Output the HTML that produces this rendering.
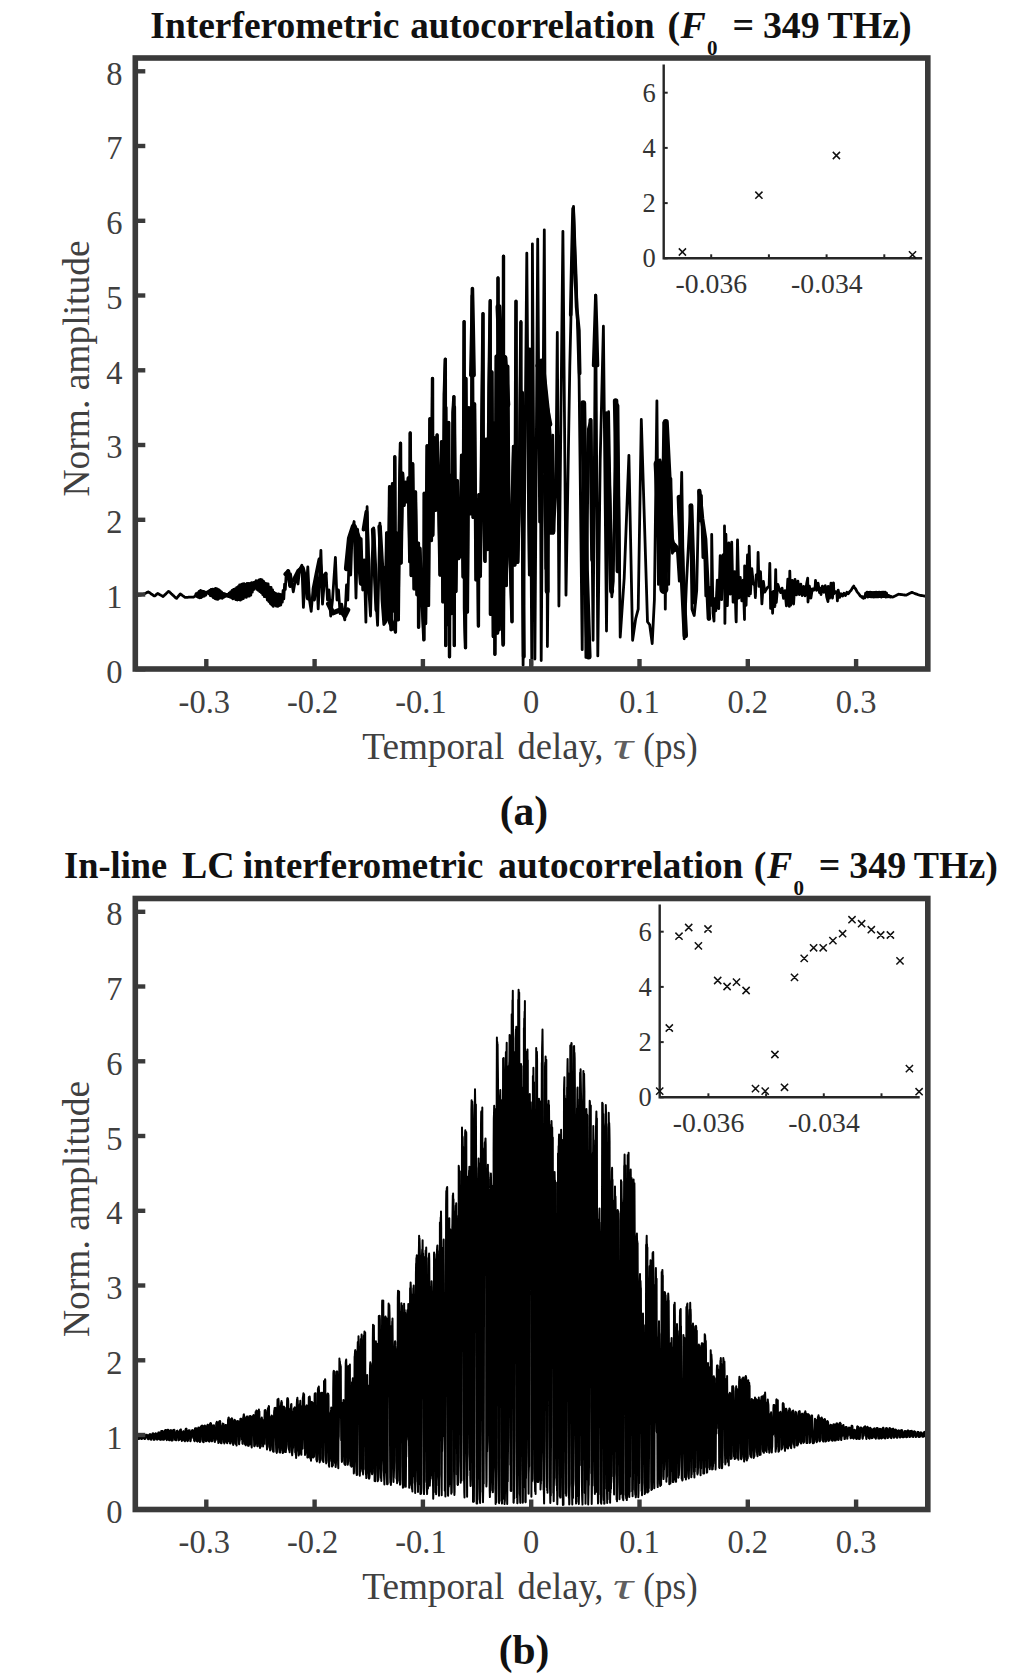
<!DOCTYPE html>
<html><head><meta charset="utf-8"><title>Interferometric autocorrelation</title>
<style>
html,body{margin:0;padding:0;background:#fff;}
svg{display:block}
text{font-family:"Liberation Serif","Times New Roman",serif;}
.tk{font-size:32.5px;fill:#404040;}
.lb{font-size:37.5px;fill:#404040;}
.tt{font-size:37.9px;font-weight:bold;fill:#111;}
.sub{font-size:21px;font-weight:bold;}
.pl{font-size:41.5px;font-weight:bold;fill:#111;}
.it{font-size:26.5px;fill:#333;}
</style></head><body>
<svg width="1025" height="1673" viewBox="0 0 1025 1673">
<rect width="1025" height="1673" fill="#fff"/>
<polyline points="135.3,595.4 136.1,595.4 136.8,595.4 137.6,595.4 138.3,595.4 139.1,595.2 139.8,595.1 140.6,595.0 141.3,594.9 142.1,594.7 142.8,594.6 143.6,594.2 144.3,593.8 145.1,593.5 145.8,593.1 146.6,592.7 147.3,592.3 148.1,591.9 148.8,592.2 149.6,592.7 150.3,593.2 151.1,593.8 151.8,594.3 152.6,594.8 153.3,595.3 154.1,595.9 154.8,595.9 155.6,595.3 156.3,594.6 157.1,593.9 157.8,593.5 158.6,593.9 159.3,594.4 160.1,594.8 160.8,595.2 161.6,595.6 162.3,596.0 163.1,596.5 163.8,595.8 164.6,595.1 165.3,594.4 166.1,593.7 166.8,592.9 167.6,592.2 168.3,591.5 169.1,591.6 169.8,592.3 170.6,593.0 171.3,593.7 172.1,594.4 172.8,595.1 173.6,595.8 174.3,596.5 175.1,597.2 175.8,597.9 176.6,598.3 177.3,597.4 178.1,596.6 178.8,595.7 179.6,594.8 180.3,593.9 181.1,594.5 181.8,595.0 182.6,595.6 183.3,596.1 184.1,596.7 184.8,597.3 185.6,597.4 186.3,597.3 187.1,597.3 187.8,597.3 188.6,597.2 189.3,597.2 190.1,597.2 190.8,597.2 191.6,597.1 192.3,597.1 193.1,597.1 193.8,597.0 194.6,596.4 195.3,596.0 196.1,593.6 196.8,596.5 197.6,592.8 198.3,597.3 199.1,591.4 199.8,597.8 200.6,590.5 201.3,597.6 202.1,591.2 202.8,596.5 203.6,591.3 204.3,596.1 205.1,592.2 205.8,595.2 206.6,592.3 207.3,593.1 208.1,591.5 208.8,593.7 209.6,590.3 210.3,595.6 211.1,589.3 211.8,596.2 212.6,589.1 213.3,597.7 214.1,589.1 214.8,598.5 215.6,588.3 216.3,599.1 217.1,589.0 217.8,599.3 218.6,589.6 219.3,598.3 220.1,590.7 220.8,597.9 221.6,592.0 222.3,598.3 223.1,593.3 223.8,597.3 224.6,593.6 225.3,596.5 226.1,594.4 226.8,596.0 227.6,594.5 228.3,596.5 229.1,593.2 229.8,597.0 230.6,591.8 231.3,597.6 232.1,590.5 232.8,598.9 233.6,589.3 234.3,598.4 235.1,588.8 235.8,599.6 236.6,587.6 237.3,600.0 238.1,586.6 238.8,599.5 239.6,584.9 240.3,600.2 241.1,584.6 241.8,599.3 242.6,583.8 243.3,598.6 244.1,583.6 244.8,597.2 245.6,584.5 246.3,597.4 247.1,583.3 247.8,596.2 248.6,583.5 249.3,596.2 250.1,583.5 250.8,595.1 251.6,582.6 252.3,592.2 253.1,582.7 253.8,589.6 254.6,582.2 255.3,587.4 256.1,580.6 256.8,589.3 257.6,580.9 258.3,590.4 259.1,579.8 259.8,591.7 260.6,579.5 261.3,592.8 262.1,579.8 262.8,594.6 263.6,581.3 264.3,596.6 265.1,583.2 265.8,596.9 266.6,583.6 267.3,600.0 268.1,583.8 268.8,601.5 269.6,587.2 270.3,603.5 271.1,587.5 271.8,605.0 272.6,590.0 273.3,606.4 274.1,592.3 274.8,605.1 275.6,593.4 276.3,606.1 277.1,594.1 277.8,606.3 278.6,594.0 279.3,605.5 280.1,594.3 280.8,605.0 281.6,594.3 282.3,602.1 283.1,590.3 283.8,598.8 284.6,584.2 285.3,589.5 286.1,575.6 286.8,579.0 287.8,570.7 289.5,585.0 290.5,574.0 293.3,591.8 295.0,582.0 296.4,577.7 298.0,584.0 299.5,570.0 301.9,565.2 303.4,607.4 305.0,580.0 306.3,590.0 307.8,566.8 309.5,600.0 311.2,611.3 313.0,590.0 314.5,600.0 316.7,574.6 318.2,608.9 320.9,550.4 322.5,604.2 324.5,580.0 326.1,573.0 327.5,600.0 329.0,590.0 330.7,616.0 332.5,600.0 335.4,557.4 337.0,600.0 338.5,590.0 340.1,613.6 341.7,604.2 343.2,612.0 344.8,619.9 346.5,585.0 347.8,600.0 349.3,550.0 350.7,575.0 352.2,530.0 354.1,521.5 356.0,598.0 357.6,529.3 359.4,550.0 361.2,538.7 362.7,590.0 364.2,560.0 365.9,622.2 367.1,506.7 368.8,590.0 370.5,616.0 372.0,560.0 373.7,527.8 375.5,590.0 377.6,625.3 379.9,523.1 382.0,600.0 383.8,624.5 385.3,622.7 386.7,533.0 388.2,612.4 389.6,486.7 391.1,629.7 392.5,483.6 393.9,611.1 394.8,456.8 395.4,632.1 396.8,533.1 398.3,619.7 399.7,484.7 400.5,443.2 401.1,563.0 402.6,473.1 404.0,505.4 405.5,482.3 406.9,501.7 408.3,477.9 409.8,561.7 410.2,433.0 411.2,575.5 412.7,463.8 414.1,588.9 415.5,492.0 417.0,594.8 418.4,543.1 418.6,627.3 419.9,548.2 421.3,586.1 422.7,613.1 423.9,639.8 424.2,493.3 425.6,623.5 427.1,445.8 428.5,605.4 429.9,418.8 431.4,540.5 432.5,378.4 432.8,535.3 434.3,437.8 435.7,510.2 437.1,435.0 438.6,496.7 440.0,575.0 441.5,441.8 442.9,601.9 444.3,394.0 445.3,359.1 445.7,645.5 445.8,407.3 447.2,624.5 448.7,422.5 449.5,656.8 450.1,475.2 451.5,613.5 453.0,412.7 453.9,396.6 454.3,645.5 454.4,406.8 455.9,591.6 457.3,480.7 458.7,558.6 460.2,554.8 461.6,455.3 463.1,577.0 464.1,321.6 464.5,608.3 465.5,647.7 465.9,378.5 467.4,612.1 468.8,407.8 470.3,513.7 471.7,428.7 472.3,295.5 473.1,517.4 474.6,404.0 476.0,579.9 477.5,499.4 478.4,626.1 478.9,494.6 480.3,576.3 481.8,427.0 483.0,313.6 483.2,432.1 484.7,559.1 485.0,561.4 486.1,439.2 487.5,549.5 489.0,387.0 490.2,300.7 490.4,614.3 491.9,371.9 493.3,636.6 494.7,423.0 494.9,654.3 496.2,356.3 497.6,633.1 498.0,278.0 499.1,629.8 500.5,335.6 501.9,604.7 503.1,645.0 503.5,256.2 503.4,644.0 504.8,362.8 506.3,585.5 507.7,366.3 509.1,539.0 510.6,573.2 512.0,621.7 512.0,514.7 513.5,446.5 514.9,565.0 516.0,301.3 516.3,464.8 517.8,562.3 519.2,503.0 520.9,321.5 523.1,665.2 526.8,253.1 529.3,575.0 530.3,428.8 531.8,665.2 532.4,243.8 534.9,659.0 537.7,239.1 539.6,522.1 540.2,366.6 541.2,660.6 544.3,229.8 545.8,568.8 546.7,422.6 547.4,646.6 549.5,425.7 551.4,522.1 552.7,435.1 553.6,533.0 555.8,491.0 557.3,332.4 558.9,606.1 562.9,231.3 566.0,595.2 569.8,366.6 573.5,206.4 576.0,273.3 579.1,379.1 582.2,649.7 583.8,404.0 585.9,657.4 588.4,428.8 590.9,419.5 593.1,640.3 595.6,295.1 597.8,655.9 600.2,459.9 603.4,326.2 606.5,631.0 608.6,411.7 611.8,596.8 613.3,581.2 615.8,402.4 618.0,405.5 620.2,637.2 624.2,578.1 628.9,455.3 632.6,640.3 635.7,618.6 638.2,609.2 641.3,419.5 647.5,621.7 649.7,624.8 652.2,643.5 654.4,599.9 656.9,400.8 658.4,584.4 660.0,459.9 661.5,568.8 663.7,422.6 665.3,609.2 666.8,459.9 668.7,584.4 670.9,478.6 672.4,553.3 674.6,543.9 677.1,547.0 679.3,581.2 681.7,472.4 684.2,638.8 686.4,584.4 690.5,506.6 692.0,609.2 694.2,615.5 696.7,590.6 698.8,492.6 700.0,520.8 701.4,495.4 702.9,557.5 704.3,536.3 705.8,595.9 707.2,581.7 708.6,615.7 710.1,587.5 711.5,605.3 711.7,534.4 713.0,613.1 714.0,621.1 714.4,598.6 715.8,610.8 717.3,580.1 718.7,608.7 720.2,555.6 721.6,599.7 723.0,554.8 724.5,569.2 724.5,525.9 724.9,623.4 725.9,534.2 727.4,605.7 728.8,543.0 730.2,594.2 731.7,542.1 733.1,602.2 734.6,571.6 736.0,619.1 736.2,621.9 737.4,545.8 737.5,539.9 738.9,598.0 740.3,577.5 741.8,600.9 743.2,580.1 744.5,619.5 744.6,566.0 746.1,605.3 747.5,554.9 749.0,595.9 749.2,546.2 750.4,593.9 751.8,568.7 753.3,583.8 754.7,585.4 755.4,597.7 756.2,575.0 757.6,577.9 758.1,552.4 759.0,586.4 760.5,571.7 761.9,603.9 763.4,581.5 764.8,592.0 766.2,589.6 767.7,587.2 769.1,586.9 769.8,563.3 770.6,608.4 772.0,592.6 772.6,613.3 773.4,591.5 774.9,606.5 775.7,569.6 776.3,602.5 777.8,584.3 779.2,588.6 780.6,592.6 782.1,588.2 783.5,598.3 785.0,590.7 786.4,605.9 787.8,579.1 789.3,606.4 789.8,571.1 790.7,605.2 792.2,580.5 793.6,604.0 795.0,579.3 796.5,594.9 797.9,581.1 799.4,594.6 800.8,584.1 802.2,595.5 803.7,586.3 805.1,595.9 806.6,584.1 807.7,578.2 808.0,602.0 809.4,586.1 810.9,598.0 812.3,588.9 813.8,590.2 815.2,586.6 815.5,580.5 816.6,590.3 818.1,583.2 819.5,592.5 821.0,588.2 821.0,594.5 822.4,586.1 823.8,592.3 825.3,585.6 826.7,596.9 828.0,601.6 828.2,586.4 829.6,598.1 831.0,583.2 832.5,598.0 833.5,582.8 833.9,593.8 835.4,591.6 836.8,592.1 837.4,600.8 838.2,590.2 839.7,597.4 841.1,593.8 842.6,596.1 844.0,593.2 845.4,595.6 846.9,592.2 848.3,593.7 849.8,591.6 851.2,590.2 852.6,587.6 853.8,586.0 854.1,587.2 855.5,588.7 857.0,591.7 858.4,593.3 860.4,596.1 861.1,596.3 861.9,597.2 862.6,596.7 863.4,598.3 864.1,596.7 864.9,597.8 865.6,593.1 866.4,596.5 867.1,592.2 867.9,597.0 868.6,592.5 869.4,596.6 870.1,592.1 870.9,596.8 871.6,592.3 872.4,596.9 873.1,592.3 873.9,597.0 874.6,592.4 875.4,596.9 876.1,592.1 876.9,596.9 877.6,592.3 878.4,596.9 879.1,592.1 879.9,596.7 880.6,592.5 881.4,597.1 882.1,592.1 882.9,596.6 883.6,592.1 884.4,596.6 885.1,592.2 885.9,597.0 886.6,593.2 887.4,596.8 888.1,595.2 888.9,596.8 889.6,595.8 890.4,597.0 891.1,596.4 891.9,597.0 892.6,597.0 893.4,596.8 894.1,596.4 894.9,596.0 895.6,595.7 896.4,595.3 897.1,594.9 897.9,594.5 898.6,594.2 899.4,594.3 900.1,594.4 900.9,594.5 901.6,594.6 902.4,594.7 903.1,594.8 903.9,594.9 904.6,595.0 905.4,595.1 906.1,595.2 906.9,594.8 907.6,594.4 908.4,594.0 909.1,593.6 909.9,593.3 910.6,592.9 911.4,592.5 912.1,592.4 912.9,592.7 913.6,593.0 914.4,593.3 915.1,593.6 915.9,593.9 916.6,594.2 917.4,594.4 918.1,594.7 918.9,595.0 919.6,595.2 920.4,595.4 921.1,595.5 921.9,595.6 922.6,595.7 923.4,595.8 924.1,596.0 924.9,596.1 925.6,596.1 926.4,596.0 927.1,596.0" fill="none" stroke="#000" stroke-width="2.8" stroke-linejoin="round"/><polyline points="385.3,622.7 386.7,533.0 388.2,612.4 389.6,486.7 391.1,629.7 392.5,483.6 393.9,611.1 394.8,456.8 395.4,632.1 396.8,533.1 398.3,619.7 399.7,484.7 400.5,443.2 401.1,563.0 402.6,473.1 404.0,505.4 405.5,482.3 406.9,501.7 408.3,477.9 409.8,561.7 410.2,433.0 411.2,575.5 412.7,463.8 414.1,588.9 415.5,492.0 417.0,594.8 418.4,543.1 418.6,627.3 419.9,548.2 421.3,586.1 422.7,613.1 423.9,639.8 424.2,493.3 425.6,623.5 427.1,445.8 428.5,605.4 429.9,418.8 431.4,540.5 432.5,378.4 432.8,535.3 434.3,437.8 435.7,510.2 437.1,435.0 438.6,496.7 440.0,575.0 441.5,441.8 442.9,601.9 444.3,394.0 445.3,359.1 445.7,645.5 445.8,407.3 447.2,624.5 448.7,422.5 449.5,656.8 450.1,475.2 451.5,613.5 453.0,412.7 453.9,396.6 454.3,645.5 454.4,406.8 455.9,591.6 457.3,480.7 458.7,558.6 460.2,554.8 461.6,455.3 463.1,577.0 464.1,321.6 464.5,608.3 465.5,647.7 465.9,378.5 467.4,612.1 468.8,407.8 470.3,513.7 471.7,428.7 472.3,295.5 473.1,517.4 474.6,404.0 476.0,579.9 477.5,499.4 478.4,626.1 478.9,494.6 480.3,576.3 481.8,427.0 483.0,313.6 483.2,432.1 484.7,559.1 485.0,561.4 486.1,439.2 487.5,549.5 489.0,387.0 490.2,300.7 490.4,614.3 491.9,371.9 493.3,636.6 494.7,423.0 494.9,654.3 496.2,356.3 497.6,633.1 498.0,278.0 499.1,629.8 500.5,335.6 501.9,604.7 503.1,645.0 503.5,256.2 503.4,644.0 504.8,362.8 506.3,585.5 507.7,366.3 509.1,539.0 510.6,573.2 512.0,621.7 512.0,514.7 513.5,446.5 514.9,565.0 516.0,301.3 516.3,464.8 517.8,562.3 519.2,503.0 520.9,321.5" fill="none" stroke="#000" stroke-width="3.4" stroke-linejoin="round"/><polyline points="540.9,363.5 546.2,413.7 550.3,476.4 551.4,530.8" fill="none" stroke="#000" stroke-width="8" stroke-linecap="round" stroke-linejoin="round"/><polyline points="545.1,476.4 546.8,539.2 547.2,591.5" fill="none" stroke="#000" stroke-width="5" stroke-linecap="round" stroke-linejoin="round"/><polyline points="583.2,403.2 585.9,570.6 588.6,656.4" fill="none" stroke="#000" stroke-width="6" stroke-linecap="round" stroke-linejoin="round"/><polyline points="590.5,420.0 592.2,560.1" fill="none" stroke="#000" stroke-width="4" stroke-linecap="round" stroke-linejoin="round"/><polyline points="606.2,413.7 608.9,497.4 611.6,591.5" fill="none" stroke="#000" stroke-width="5" stroke-linecap="round" stroke-linejoin="round"/><polyline points="615.6,401.1 617.3,497.4 618.3,570.6" fill="none" stroke="#000" stroke-width="5.5" stroke-linecap="round" stroke-linejoin="round"/><polyline points="658.1,463.9 660.6,518.3 663.9,589.4" fill="none" stroke="#000" stroke-width="9" stroke-linecap="round" stroke-linejoin="round"/><polyline points="665.8,422.1 668.5,476.4 671.0,539.2 673.8,549.7" fill="none" stroke="#000" stroke-width="6" stroke-linecap="round" stroke-linejoin="round"/><polyline points="679.4,497.4 682.1,570.6 685.3,635.4" fill="none" stroke="#000" stroke-width="5.5" stroke-linecap="round" stroke-linejoin="round"/><polyline points="690.9,505.7 692.6,560.1 694.1,602.0" fill="none" stroke="#000" stroke-width="5" stroke-linecap="round" stroke-linejoin="round"/><polyline points="699.3,491.1 702.0,518.3 705.1,539.2 707.2,581.0 708.9,618.7" fill="none" stroke="#000" stroke-width="4.5" stroke-linecap="round" stroke-linejoin="round"/><polyline points="529.4,350.9 530.5,497.4 531.5,570.6" fill="none" stroke="#000" stroke-width="7" stroke-linecap="round" stroke-linejoin="round"/><polyline points="522.1,392.8 523.8,656.4" fill="none" stroke="#000" stroke-width="4" stroke-linecap="round" stroke-linejoin="round"/><polyline points="570.7,314.9 571.9,258.3 573.1,208.5 574.6,258.3 576.6,307.1 578.9,330.5 579.7,373.4" fill="none" stroke="#000" stroke-width="3.6" stroke-linecap="round" stroke-linejoin="round"/><polyline points="470.8,375.4 471.8,326.6 472.4,288.5 473.2,326.6 474.1,375.4" fill="none" stroke="#000" stroke-width="3.6" stroke-linecap="round" stroke-linejoin="round"/><polyline points="593.4,365.6 594.7,326.6 595.7,295.4 596.7,326.6 597.7,365.6" fill="none" stroke="#000" stroke-width="3.2" stroke-linecap="round" stroke-linejoin="round"/><polyline points="498.5,307.1 500.9,365.6 504.4,357.8 507.3,404.6" fill="none" stroke="#000" stroke-width="6" stroke-linecap="round" stroke-linejoin="round"/><polyline points="538.5,365.6 541.5,361.7 545.4,404.6 549.3,424.1" fill="none" stroke="#000" stroke-width="6" stroke-linecap="round" stroke-linejoin="round"/><polyline points="285.3,574.2 288.3,571.2 290.4,586.1" fill="none" stroke="#000" stroke-width="4" stroke-linecap="round" stroke-linejoin="round"/><polyline points="294.2,580.1 298.7,571.2 302.3,568.2 306.1,583.1 308.2,598.0" fill="none" stroke="#000" stroke-width="5" stroke-linecap="round" stroke-linejoin="round"/><polyline points="313.6,589.0 316.5,574.2 319.5,559.3 321.9,580.1 325.5,574.2" fill="none" stroke="#000" stroke-width="4" stroke-linecap="round" stroke-linejoin="round"/><polyline points="328.5,603.9 332.9,612.9 340.4,609.9 344.8,615.8 347.8,609.9" fill="none" stroke="#000" stroke-width="5" stroke-linecap="round" stroke-linejoin="round"/><polyline points="346.9,568.2 349.9,538.5 353.8,526.5 358.2,538.5 361.8,583.1" fill="none" stroke="#000" stroke-width="6" stroke-linecap="round" stroke-linejoin="round"/><polyline points="363.6,529.5 366.5,511.7 368.9,583.1" fill="none" stroke="#000" stroke-width="4" stroke-linecap="round" stroke-linejoin="round"/><polyline points="373.1,529.5 374.9,568.2 376.7,609.9" fill="none" stroke="#000" stroke-width="4.5" stroke-linecap="round" stroke-linejoin="round"/><polyline points="379.6,526.5 382.0,568.2 384.4,612.9" fill="none" stroke="#000" stroke-width="4.5" stroke-linecap="round" stroke-linejoin="round"/><polyline points="386.5,568.2 389.5,618.8 393.3,627.7" fill="none" stroke="#000" stroke-width="6" stroke-linecap="round" stroke-linejoin="round"/>
<rect x="135.3" y="58.0" width="792.5" height="611.0" fill="none" stroke="#3a3a3a" stroke-width="5.6"/>
<line x1="135.3" x2="145.3" y1="669.3" y2="669.3" stroke="#3a3a3a" stroke-width="4.4"/>
<text transform="translate(122.5,682.7) scale(1,1.05)" text-anchor="end" class="tk">0</text>
<line x1="135.3" x2="145.3" y1="594.5" y2="594.5" stroke="#3a3a3a" stroke-width="4.4"/>
<text transform="translate(122.5,607.9) scale(1,1.05)" text-anchor="end" class="tk">1</text>
<line x1="135.3" x2="145.3" y1="519.8" y2="519.8" stroke="#3a3a3a" stroke-width="4.4"/>
<text transform="translate(122.5,533.2) scale(1,1.05)" text-anchor="end" class="tk">2</text>
<line x1="135.3" x2="145.3" y1="445.0" y2="445.0" stroke="#3a3a3a" stroke-width="4.4"/>
<text transform="translate(122.5,458.4) scale(1,1.05)" text-anchor="end" class="tk">3</text>
<line x1="135.3" x2="145.3" y1="370.3" y2="370.3" stroke="#3a3a3a" stroke-width="4.4"/>
<text transform="translate(122.5,383.7) scale(1,1.05)" text-anchor="end" class="tk">4</text>
<line x1="135.3" x2="145.3" y1="295.5" y2="295.5" stroke="#3a3a3a" stroke-width="4.4"/>
<text transform="translate(122.5,308.9) scale(1,1.05)" text-anchor="end" class="tk">5</text>
<line x1="135.3" x2="145.3" y1="220.8" y2="220.8" stroke="#3a3a3a" stroke-width="4.4"/>
<text transform="translate(122.5,234.2) scale(1,1.05)" text-anchor="end" class="tk">6</text>
<line x1="135.3" x2="145.3" y1="146.0" y2="146.0" stroke="#3a3a3a" stroke-width="4.4"/>
<text transform="translate(122.5,159.4) scale(1,1.05)" text-anchor="end" class="tk">7</text>
<line x1="135.3" x2="145.3" y1="71.3" y2="71.3" stroke="#3a3a3a" stroke-width="4.4"/>
<text transform="translate(122.5,84.7) scale(1,1.05)" text-anchor="end" class="tk">8</text>
<line x1="206.3" x2="206.3" y1="669.0" y2="659.0" stroke="#3a3a3a" stroke-width="4.4"/>
<text transform="translate(204.3,713.4) scale(1,1.05)" text-anchor="middle" class="tk">-0.3</text>
<line x1="314.6" x2="314.6" y1="669.0" y2="659.0" stroke="#3a3a3a" stroke-width="4.4"/>
<text transform="translate(312.6,713.4) scale(1,1.05)" text-anchor="middle" class="tk">-0.2</text>
<line x1="422.9" x2="422.9" y1="669.0" y2="659.0" stroke="#3a3a3a" stroke-width="4.4"/>
<text transform="translate(420.9,713.4) scale(1,1.05)" text-anchor="middle" class="tk">-0.1</text>
<line x1="531.2" x2="531.2" y1="669.0" y2="659.0" stroke="#3a3a3a" stroke-width="4.4"/>
<text transform="translate(531.2,713.4) scale(1,1.05)" text-anchor="middle" class="tk">0</text>
<line x1="639.5" x2="639.5" y1="669.0" y2="659.0" stroke="#3a3a3a" stroke-width="4.4"/>
<text transform="translate(639.5,713.4) scale(1,1.05)" text-anchor="middle" class="tk">0.1</text>
<line x1="747.8" x2="747.8" y1="669.0" y2="659.0" stroke="#3a3a3a" stroke-width="4.4"/>
<text transform="translate(747.8,713.4) scale(1,1.05)" text-anchor="middle" class="tk">0.2</text>
<line x1="856.1" x2="856.1" y1="669.0" y2="659.0" stroke="#3a3a3a" stroke-width="4.4"/>
<text transform="translate(856.1,713.4) scale(1,1.05)" text-anchor="middle" class="tk">0.3</text>
<text transform="translate(88.5,368.5) rotate(-90)" text-anchor="middle" class="lb">Norm. amplitude</text>
<text y="758.9" class="lb" xml:space="preserve"><tspan x="362.3" textLength="142" lengthAdjust="spacingAndGlyphs">Temporal</tspan> <tspan x="517.5" textLength="86" lengthAdjust="spacingAndGlyphs">delay,</tspan> <tspan x="643.3" textLength="54.4" lengthAdjust="spacingAndGlyphs">(ps)</tspan></text>
<text transform="translate(613,758.9) scale(1.5,1)" class="lb" font-style="italic" font-size="38" style="fill:#606060">τ</text>
<text y="37.8" class="tt"><tspan x="150.3" textLength="249" lengthAdjust="spacingAndGlyphs">Interferometric</tspan> <tspan x="410.2" textLength="244.5" lengthAdjust="spacingAndGlyphs">autocorrelation</tspan> <tspan x="667.4">(</tspan><tspan x="680.5" font-style="italic">F</tspan><tspan class="sub" x="707.0" dy="17">0</tspan><tspan x="732.4" dy="-17">=</tspan> <tspan x="762.9">349</tspan> <tspan x="827.4">THz)</tspan></text>
<text x="524" y="825.3" class="pl" text-anchor="middle">(a)</text>
<path d="M663.7 64.5 V258.3 H922.2" fill="none" stroke="#262626" stroke-width="2.4"/>
<line x1="663.7" x2="667.7" y1="258.3" y2="258.3" stroke="#262626" stroke-width="2"/>
<text x="655.7" y="267.3" text-anchor="end" class="it" font-size="27.5">0</text>
<line x1="663.7" x2="667.7" y1="203.1" y2="203.1" stroke="#262626" stroke-width="2"/>
<text x="655.7" y="212.1" text-anchor="end" class="it" font-size="27.5">2</text>
<line x1="663.7" x2="667.7" y1="147.9" y2="147.9" stroke="#262626" stroke-width="2"/>
<text x="655.7" y="156.9" text-anchor="end" class="it" font-size="27.5">4</text>
<line x1="663.7" x2="667.7" y1="92.7" y2="92.7" stroke="#262626" stroke-width="2"/>
<text x="655.7" y="101.7" text-anchor="end" class="it" font-size="27.5">6</text>
<line x1="711.2" x2="711.2" y1="258.3" y2="254.3" stroke="#262626" stroke-width="2"/>
<line x1="768.9" x2="768.9" y1="258.3" y2="254.3" stroke="#262626" stroke-width="2"/>
<line x1="826.6" x2="826.6" y1="258.3" y2="254.3" stroke="#262626" stroke-width="2"/>
<line x1="884.3" x2="884.3" y1="258.3" y2="254.3" stroke="#262626" stroke-width="2"/>
<text x="675.6" y="292.8" textLength="71.5" lengthAdjust="spacingAndGlyphs" class="it">-0.036</text>
<text x="791.1" y="292.8" textLength="71.5" lengthAdjust="spacingAndGlyphs" class="it">-0.034</text>
<path d="M678.8 248.4l7.2 7.2M678.8 255.6l7.2 -7.2M755.3 191.6l7.2 7.2M755.3 198.8l7.2 -7.2M832.8 151.9l7.2 7.2M832.8 159.1l7.2 -7.2M908.9 251.2l7.2 7.2M908.9 258.4l7.2 -7.2" stroke="#111" stroke-width="1.5" fill="none"/>
<polyline points="135.4,1438.8 135.5,1438.6 135.7,1438.8 135.9,1438.6 136.1,1438.5 136.3,1438.0 136.4,1437.1 136.6,1436.1 136.8,1435.9 137.0,1436.1 137.2,1436.0 137.4,1436.0 137.5,1436.1 137.7,1436.0 137.9,1436.0 138.1,1436.8 138.3,1438.6 138.4,1438.9 138.6,1438.9 138.8,1438.8 139.0,1439.0 139.2,1438.8 139.3,1438.1 139.5,1436.5 139.7,1435.7 139.9,1436.0 140.1,1435.5 140.2,1435.8 140.4,1435.9 140.6,1435.6 140.8,1435.6 141.0,1436.8 141.2,1438.8 141.3,1439.0 141.5,1439.0 141.7,1438.8 141.9,1438.7 142.1,1438.7 142.2,1438.8 142.4,1438.4 142.6,1436.3 142.8,1434.6 143.0,1434.4 143.1,1434.6 143.3,1434.5 143.5,1434.6 143.7,1434.5 143.9,1434.5 144.0,1435.8 144.2,1438.6 144.4,1438.9 144.6,1439.1 144.8,1439.1 144.9,1438.9 145.1,1439.0 145.3,1438.7 145.5,1437.8 145.7,1437.3 145.9,1435.2 146.0,1434.7 146.2,1435.0 146.4,1435.1 146.6,1435.0 146.8,1435.1 146.9,1434.8 147.1,1435.1 147.3,1435.0 147.5,1437.6 147.7,1438.4 147.8,1438.9 148.0,1439.0 148.2,1439.2 148.4,1439.2 148.6,1439.1 148.7,1439.2 148.9,1438.3 149.1,1434.8 149.3,1434.5 149.5,1434.2 149.7,1434.3 149.8,1434.2 150.0,1434.0 150.2,1434.4 150.4,1435.0 150.6,1438.0 150.7,1439.1 150.9,1439.6 151.1,1439.4 151.3,1439.3 151.5,1439.7 151.6,1439.3 151.8,1439.1 152.0,1437.9 152.2,1434.4 152.4,1433.6 152.5,1433.7 152.7,1433.5 152.9,1433.3 153.1,1433.2 153.3,1433.8 153.4,1433.5 153.6,1434.2 153.8,1437.5 154.0,1440.0 154.2,1439.5 154.4,1439.4 154.5,1439.5 154.7,1439.5 154.9,1439.3 155.1,1436.4 155.3,1434.0 155.4,1433.8 155.6,1433.2 155.8,1434.0 156.0,1433.7 156.2,1433.5 156.3,1433.7 156.5,1433.7 156.7,1437.1 156.9,1439.5 157.1,1439.5 157.2,1439.7 157.4,1439.3 157.6,1439.3 157.8,1439.4 158.0,1439.2 158.2,1435.4 158.3,1432.4 158.5,1432.9 158.7,1432.6 158.9,1432.6 159.1,1432.3 159.2,1432.5 159.4,1432.6 159.6,1435.9 159.8,1439.1 160.0,1439.7 160.1,1439.2 160.3,1439.8 160.5,1439.8 160.7,1439.8 160.9,1439.9 161.0,1432.9 161.2,1431.1 161.4,1431.2 161.6,1431.6 161.8,1431.1 162.0,1431.4 162.1,1430.9 162.3,1431.6 162.5,1431.1 162.7,1435.5 162.9,1439.8 163.0,1439.8 163.2,1439.6 163.4,1439.6 163.6,1439.4 163.8,1439.5 163.9,1439.1 164.1,1439.6 164.3,1435.3 164.5,1431.0 164.7,1430.5 164.8,1430.6 165.0,1430.3 165.2,1431.0 165.4,1430.4 165.6,1430.0 165.7,1431.1 165.9,1436.1 166.1,1439.1 166.3,1439.3 166.5,1439.6 166.7,1439.8 166.8,1440.1 167.0,1438.7 167.2,1433.8 167.4,1429.7 167.6,1430.6 167.7,1430.4 167.9,1430.5 168.1,1430.2 168.3,1429.9 168.5,1432.9 168.6,1438.4 168.8,1439.8 169.0,1439.4 169.2,1440.2 169.4,1440.1 169.5,1439.7 169.7,1440.2 169.9,1433.7 170.1,1430.5 170.3,1430.8 170.5,1430.5 170.6,1430.4 170.8,1430.1 171.0,1430.1 171.2,1430.5 171.4,1430.6 171.5,1436.1 171.7,1440.6 171.9,1440.4 172.1,1440.6 172.3,1440.3 172.4,1439.8 172.6,1440.3 172.8,1440.1 173.0,1436.6 173.2,1430.1 173.3,1430.6 173.5,1430.4 173.7,1430.4 173.9,1430.5 174.1,1429.7 174.2,1429.8 174.4,1429.9 174.6,1432.1 174.8,1436.0 175.0,1439.8 175.2,1440.0 175.3,1439.8 175.5,1439.6 175.7,1440.1 175.9,1440.2 176.1,1440.4 176.2,1438.4 176.4,1433.9 176.6,1432.0 176.8,1430.9 177.0,1430.7 177.1,1431.4 177.3,1431.4 177.5,1430.6 177.7,1431.0 177.9,1431.3 178.0,1431.5 178.2,1437.4 178.4,1440.2 178.6,1440.4 178.8,1440.2 179.0,1440.0 179.1,1439.4 179.3,1439.5 179.5,1439.6 179.7,1436.9 179.9,1431.3 180.0,1430.5 180.2,1429.8 180.4,1429.9 180.6,1430.0 180.8,1429.5 180.9,1429.4 181.1,1434.1 181.3,1439.5 181.5,1439.9 181.7,1440.2 181.8,1440.9 182.0,1440.2 182.2,1440.5 182.4,1438.9 182.6,1436.3 182.7,1432.7 182.9,1431.9 183.1,1431.5 183.3,1431.3 183.5,1431.1 183.7,1431.9 183.8,1432.3 184.0,1436.5 184.2,1440.5 184.4,1440.6 184.6,1440.3 184.7,1441.0 184.9,1441.3 185.1,1440.0 185.3,1435.5 185.5,1429.7 185.6,1429.3 185.8,1428.8 186.0,1429.4 186.2,1428.9 186.4,1429.4 186.5,1428.8 186.7,1431.5 186.9,1436.3 187.1,1440.8 187.3,1440.6 187.5,1440.9 187.6,1441.1 187.8,1440.9 188.0,1440.7 188.2,1438.4 188.4,1434.1 188.5,1430.8 188.7,1430.4 188.9,1430.9 189.1,1431.2 189.3,1431.2 189.4,1430.8 189.6,1430.3 189.8,1431.4 190.0,1433.0 190.2,1439.8 190.3,1441.3 190.5,1441.3 190.7,1440.7 190.9,1438.4 191.1,1437.7 191.2,1437.5 191.4,1436.5 191.6,1432.2 191.8,1431.1 192.0,1430.2 192.2,1430.8 192.3,1430.6 192.5,1430.7 192.7,1429.9 192.9,1430.1 193.1,1430.9 193.2,1435.5 193.4,1438.3 193.6,1438.3 193.8,1438.3 194.0,1438.1 194.1,1440.5 194.3,1440.9 194.5,1440.8 194.7,1441.2 194.9,1431.5 195.0,1428.5 195.2,1428.3 195.4,1428.9 195.6,1428.5 195.8,1428.2 196.0,1428.4 196.1,1428.2 196.3,1428.9 196.5,1435.0 196.7,1440.2 196.9,1440.8 197.0,1441.2 197.2,1441.4 197.4,1441.6 197.6,1441.3 197.8,1441.3 197.9,1432.0 198.1,1428.2 198.3,1427.6 198.5,1428.2 198.7,1428.5 198.8,1428.4 199.0,1427.5 199.2,1428.0 199.4,1436.3 199.6,1440.1 199.8,1441.9 199.9,1441.5 200.1,1441.9 200.3,1441.6 200.5,1441.2 200.7,1439.4 200.8,1431.5 201.0,1426.4 201.2,1426.2 201.4,1426.5 201.6,1425.9 201.7,1426.2 201.9,1425.9 202.1,1426.1 202.3,1425.6 202.5,1426.4 202.6,1430.3 202.8,1440.3 203.0,1441.8 203.2,1441.5 203.4,1441.5 203.5,1441.3 203.7,1442.3 203.9,1437.8 204.1,1430.7 204.3,1425.7 204.5,1425.7 204.6,1426.5 204.8,1425.5 205.0,1425.7 205.2,1426.0 205.4,1427.5 205.5,1436.7 205.7,1440.5 205.9,1441.2 206.1,1441.2 206.3,1441.0 206.4,1441.2 206.6,1440.4 206.8,1440.8 207.0,1435.4 207.2,1425.4 207.3,1425.3 207.5,1424.9 207.7,1425.5 207.9,1424.8 208.1,1424.9 208.3,1425.1 208.4,1425.3 208.6,1435.9 208.8,1441.3 209.0,1440.5 209.2,1441.4 209.3,1441.6 209.5,1441.5 209.7,1435.1 209.9,1427.0 210.1,1423.6 210.2,1423.7 210.4,1424.2 210.6,1423.1 210.8,1423.7 211.0,1423.3 211.1,1425.1 211.3,1436.1 211.5,1440.9 211.7,1441.3 211.9,1440.5 212.0,1440.8 212.2,1441.1 212.4,1440.6 212.6,1431.8 212.8,1425.7 213.0,1425.4 213.1,1425.7 213.3,1426.2 213.5,1426.1 213.7,1425.7 213.9,1425.2 214.0,1425.6 214.2,1428.0 214.4,1438.0 214.6,1441.2 214.8,1441.9 214.9,1442.0 215.1,1439.8 215.3,1439.5 215.5,1440.5 215.7,1440.1 215.8,1437.7 216.0,1430.8 216.2,1423.5 216.4,1422.7 216.6,1423.5 216.8,1421.8 216.9,1422.8 217.1,1422.2 217.3,1422.5 217.5,1423.9 217.7,1433.0 217.8,1439.8 218.0,1439.7 218.2,1441.7 218.4,1443.1 218.6,1442.4 218.7,1441.8 218.9,1431.5 219.1,1421.5 219.3,1422.5 219.5,1422.0 219.6,1421.8 219.8,1421.8 220.0,1420.9 220.2,1421.2 220.4,1430.7 220.5,1436.6 220.7,1442.9 220.9,1443.1 221.1,1442.4 221.3,1442.4 221.5,1443.3 221.6,1442.3 221.8,1442.2 222.0,1438.8 222.2,1426.2 222.4,1425.1 222.5,1425.1 222.7,1423.6 222.9,1424.7 223.1,1423.8 223.3,1424.7 223.4,1425.7 223.6,1424.0 223.8,1432.1 224.0,1442.7 224.2,1442.2 224.3,1443.4 224.5,1442.7 224.7,1441.9 224.9,1438.2 225.1,1427.8 225.3,1425.8 225.4,1426.2 225.6,1425.1 225.8,1426.1 226.0,1424.9 226.2,1426.5 226.3,1428.0 226.5,1438.0 226.7,1442.3 226.9,1442.7 227.1,1442.8 227.2,1443.3 227.4,1441.9 227.6,1441.6 227.8,1431.9 228.0,1420.4 228.1,1419.4 228.3,1418.9 228.5,1417.7 228.7,1417.5 228.9,1418.1 229.0,1419.5 229.2,1420.1 229.4,1428.9 229.6,1441.7 229.8,1441.7 230.0,1443.3 230.1,1442.6 230.3,1443.5 230.5,1443.0 230.7,1441.2 230.9,1427.1 231.0,1419.1 231.2,1418.8 231.4,1419.2 231.6,1419.1 231.8,1418.3 231.9,1419.3 232.1,1418.7 232.3,1419.1 232.5,1436.6 232.7,1442.7 232.8,1444.0 233.0,1442.4 233.2,1444.9 233.4,1444.3 233.6,1443.2 233.8,1439.6 233.9,1422.5 234.1,1421.0 234.3,1422.2 234.5,1420.2 234.7,1419.8 234.8,1421.0 235.0,1421.0 235.2,1420.4 235.4,1420.8 235.6,1437.2 235.7,1444.1 235.9,1442.4 236.1,1443.9 236.3,1444.2 236.5,1444.7 236.6,1445.6 236.8,1429.9 237.0,1425.0 237.2,1424.2 237.4,1421.7 237.5,1420.9 237.7,1421.3 237.9,1421.3 238.1,1421.6 238.3,1421.6 238.5,1421.3 238.6,1428.0 238.8,1440.8 239.0,1444.1 239.2,1444.3 239.4,1438.2 239.5,1439.1 239.7,1440.6 239.9,1433.6 240.1,1423.8 240.3,1420.9 240.4,1418.7 240.6,1419.1 240.8,1418.9 241.0,1418.7 241.2,1418.8 241.3,1420.8 241.5,1422.8 241.7,1430.2 241.9,1439.4 242.1,1439.6 242.3,1438.4 242.4,1443.5 242.6,1443.5 242.8,1443.9 243.0,1434.5 243.2,1417.3 243.3,1417.0 243.5,1416.6 243.7,1414.6 243.9,1414.3 244.1,1417.3 244.2,1415.9 244.4,1416.8 244.6,1428.3 244.8,1440.1 245.0,1444.3 245.1,1444.2 245.3,1444.4 245.5,1443.6 245.7,1445.3 245.9,1444.8 246.1,1440.1 246.2,1420.7 246.4,1417.5 246.6,1417.8 246.8,1416.8 247.0,1416.6 247.1,1416.4 247.3,1417.1 247.5,1429.0 247.7,1443.4 247.9,1444.9 248.0,1445.4 248.2,1445.9 248.4,1445.0 248.6,1445.8 248.8,1445.8 248.9,1439.8 249.1,1425.6 249.3,1416.3 249.5,1416.3 249.7,1417.9 249.8,1417.8 250.0,1418.1 250.2,1418.6 250.4,1416.1 250.6,1433.5 250.8,1444.5 250.9,1444.0 251.1,1445.0 251.3,1444.7 251.5,1445.8 251.7,1447.5 251.8,1444.4 252.0,1432.8 252.2,1419.2 252.4,1416.3 252.6,1416.2 252.7,1417.5 252.9,1416.6 253.1,1416.1 253.3,1416.4 253.5,1416.9 253.6,1414.9 253.8,1424.7 254.0,1439.3 254.2,1446.0 254.4,1446.2 254.6,1444.3 254.7,1446.1 254.9,1445.2 255.1,1443.4 255.3,1428.0 255.5,1420.2 255.6,1412.1 255.8,1412.2 256.0,1412.1 256.2,1411.5 256.4,1410.4 256.5,1410.5 256.7,1410.6 256.9,1426.5 257.1,1444.5 257.3,1446.0 257.4,1445.9 257.6,1443.9 257.8,1446.3 258.0,1434.5 258.2,1417.0 258.3,1412.6 258.5,1410.9 258.7,1412.9 258.9,1409.5 259.1,1413.1 259.3,1411.5 259.4,1411.4 259.6,1428.3 259.8,1443.0 260.0,1448.0 260.2,1445.6 260.3,1445.8 260.5,1444.8 260.7,1446.4 260.9,1446.4 261.1,1432.8 261.2,1419.1 261.4,1420.5 261.6,1418.9 261.8,1417.4 262.0,1420.2 262.1,1418.9 262.3,1419.7 262.5,1420.2 262.7,1436.4 262.9,1442.4 263.1,1446.5 263.2,1445.5 263.4,1442.2 263.6,1444.1 263.8,1442.9 264.0,1444.1 264.1,1443.9 264.3,1428.3 264.5,1416.8 264.7,1410.3 264.9,1412.9 265.0,1410.3 265.2,1411.2 265.4,1410.1 265.6,1410.5 265.8,1412.1 265.9,1421.6 266.1,1433.0 266.3,1444.3 266.5,1444.2 266.7,1445.7 266.8,1445.2 267.0,1449.5 267.2,1445.3 267.4,1447.1 267.6,1437.0 267.8,1410.4 267.9,1408.4 268.1,1408.1 268.3,1408.7 268.5,1407.4 268.7,1407.3 268.8,1406.1 269.0,1406.4 269.2,1419.7 269.4,1442.0 269.6,1447.8 269.7,1448.2 269.9,1447.9 270.1,1450.5 270.3,1449.5 270.5,1449.7 270.6,1444.7 270.8,1432.9 271.0,1421.1 271.2,1416.4 271.4,1419.0 271.6,1416.7 271.7,1415.4 271.9,1415.9 272.1,1417.4 272.3,1416.3 272.5,1429.0 272.6,1447.1 272.8,1450.3 273.0,1451.3 273.2,1451.6 273.4,1451.8 273.5,1450.0 273.7,1451.8 273.9,1435.1 274.1,1412.2 274.3,1410.0 274.4,1410.8 274.6,1408.1 274.8,1409.6 275.0,1409.5 275.2,1409.8 275.3,1407.8 275.5,1407.9 275.7,1422.8 275.9,1438.5 276.1,1448.1 276.3,1452.0 276.4,1452.0 276.6,1451.0 276.8,1452.9 277.0,1451.6 277.2,1445.1 277.3,1409.3 277.5,1399.5 277.7,1400.4 277.9,1401.3 278.1,1400.8 278.2,1402.3 278.4,1398.7 278.6,1400.3 278.8,1405.3 279.0,1434.1 279.1,1446.6 279.3,1449.7 279.5,1452.2 279.7,1451.8 279.9,1449.9 280.1,1452.6 280.2,1450.9 280.4,1450.6 280.6,1440.9 280.8,1405.8 281.0,1406.3 281.1,1402.7 281.3,1403.6 281.5,1401.1 281.7,1402.3 281.9,1403.2 282.0,1412.1 282.2,1433.2 282.4,1447.9 282.6,1452.6 282.8,1451.7 282.9,1453.1 283.1,1452.0 283.3,1451.9 283.5,1452.2 283.7,1429.6 283.9,1406.6 284.0,1406.8 284.2,1407.6 284.4,1409.0 284.6,1407.5 284.8,1407.9 284.9,1410.0 285.1,1433.4 285.3,1450.5 285.5,1452.0 285.7,1450.2 285.8,1452.1 286.0,1449.5 286.2,1448.6 286.4,1446.6 286.6,1444.6 286.7,1437.8 286.9,1410.8 287.1,1400.4 287.3,1398.3 287.5,1402.3 287.6,1400.3 287.8,1398.2 288.0,1399.0 288.2,1400.6 288.4,1407.4 288.6,1433.2 288.7,1447.4 288.9,1449.7 289.1,1448.5 289.3,1450.6 289.5,1450.6 289.6,1452.3 289.8,1450.4 290.0,1436.7 290.2,1410.8 290.4,1408.7 290.5,1409.3 290.7,1408.3 290.9,1408.1 291.1,1404.4 291.3,1406.0 291.4,1404.1 291.6,1417.7 291.8,1444.4 292.0,1453.7 292.2,1455.3 292.4,1452.2 292.5,1451.9 292.7,1449.7 292.9,1446.9 293.1,1448.0 293.3,1436.2 293.4,1411.1 293.6,1410.7 293.8,1408.7 294.0,1409.6 294.2,1408.0 294.3,1408.8 294.5,1407.7 294.7,1407.4 294.9,1414.1 295.1,1438.6 295.2,1452.6 295.4,1449.1 295.6,1450.0 295.8,1454.6 296.0,1449.5 296.1,1458.0 296.3,1454.1 296.5,1442.4 296.7,1406.0 296.9,1401.9 297.1,1399.7 297.2,1399.3 297.4,1397.7 297.6,1402.6 297.8,1400.6 298.0,1427.2 298.1,1451.0 298.3,1450.9 298.5,1451.3 298.7,1455.4 298.9,1453.9 299.0,1454.6 299.2,1454.2 299.4,1442.6 299.6,1410.3 299.8,1405.1 299.9,1404.1 300.1,1405.2 300.3,1400.8 300.5,1407.7 300.7,1405.9 300.9,1405.9 301.0,1421.7 301.2,1453.2 301.4,1454.8 301.6,1442.6 301.8,1446.9 301.9,1445.2 302.1,1447.7 302.3,1448.8 302.5,1439.2 302.7,1426.1 302.8,1398.1 303.0,1396.8 303.2,1395.3 303.4,1393.3 303.6,1396.0 303.7,1396.0 303.9,1395.1 304.1,1394.2 304.3,1410.7 304.5,1439.5 304.6,1448.9 304.8,1447.3 305.0,1455.0 305.2,1454.2 305.4,1452.7 305.6,1436.4 305.7,1408.5 305.9,1406.7 306.1,1406.8 306.3,1406.8 306.5,1405.5 306.6,1406.6 306.8,1405.4 307.0,1413.5 307.2,1441.2 307.4,1457.6 307.5,1455.1 307.7,1456.1 307.9,1454.2 308.1,1455.2 308.3,1457.2 308.4,1454.3 308.6,1412.5 308.8,1397.3 309.0,1399.3 309.2,1396.7 309.4,1396.9 309.5,1399.0 309.7,1396.5 309.9,1398.7 310.1,1424.1 310.3,1458.6 310.4,1456.3 310.6,1455.5 310.8,1457.1 311.0,1460.7 311.2,1457.4 311.3,1425.3 311.5,1407.2 311.7,1402.0 311.9,1401.9 312.1,1405.2 312.2,1403.3 312.4,1402.6 312.6,1402.9 312.8,1407.0 313.0,1428.4 313.1,1457.6 313.3,1455.5 313.5,1457.1 313.7,1455.2 313.9,1456.8 314.1,1456.3 314.2,1451.4 314.4,1420.2 314.6,1395.5 314.8,1393.4 315.0,1394.5 315.1,1394.6 315.3,1394.7 315.5,1395.6 315.7,1393.3 315.9,1426.0 316.0,1434.3 316.2,1454.8 316.4,1460.0 316.6,1456.9 316.8,1457.9 316.9,1461.5 317.1,1460.2 317.3,1460.0 317.5,1452.9 317.7,1415.7 317.9,1388.9 318.0,1390.4 318.2,1387.7 318.4,1392.3 318.6,1390.5 318.8,1386.6 318.9,1388.9 319.1,1393.0 319.3,1435.1 319.5,1456.3 319.7,1462.4 319.8,1461.8 320.0,1459.4 320.2,1459.4 320.4,1457.5 320.6,1460.6 320.7,1422.3 320.9,1396.0 321.1,1392.8 321.3,1398.5 321.5,1394.1 321.7,1395.9 321.8,1396.4 322.0,1393.0 322.2,1392.8 322.4,1407.8 322.6,1434.9 322.7,1459.2 322.9,1459.5 323.1,1461.7 323.3,1461.0 323.5,1462.1 323.6,1456.1 323.8,1423.8 324.0,1380.9 324.2,1382.0 324.4,1383.6 324.5,1381.4 324.7,1382.4 324.9,1380.4 325.1,1379.2 325.3,1380.3 325.4,1406.0 325.6,1431.1 325.8,1455.3 326.0,1460.1 326.2,1463.4 326.4,1462.2 326.5,1462.4 326.7,1460.7 326.9,1446.1 327.1,1406.4 327.3,1395.9 327.4,1394.3 327.6,1393.6 327.8,1394.4 328.0,1396.5 328.2,1393.7 328.3,1396.8 328.5,1395.1 328.7,1427.9 328.9,1465.9 329.1,1465.3 329.2,1466.7 329.4,1457.4 329.6,1461.4 329.8,1460.7 330.0,1455.1 330.2,1446.2 330.3,1421.0 330.5,1412.9 330.7,1415.5 330.9,1411.7 331.1,1409.4 331.2,1407.6 331.4,1415.0 331.6,1421.1 331.8,1453.3 332.0,1466.6 332.1,1465.4 332.3,1463.6 332.5,1460.9 332.7,1460.3 332.9,1465.5 333.0,1443.0 333.2,1388.9 333.4,1373.3 333.6,1371.1 333.8,1371.0 333.9,1370.8 334.1,1372.1 334.3,1372.0 334.5,1371.8 334.7,1410.4 334.9,1460.8 335.0,1462.7 335.2,1463.5 335.4,1460.5 335.6,1467.0 335.8,1465.6 335.9,1464.4 336.1,1460.0 336.3,1438.2 336.5,1376.3 336.7,1371.6 336.8,1379.6 337.0,1378.5 337.2,1371.4 337.4,1378.5 337.6,1375.7 337.7,1400.7 337.9,1442.4 338.1,1464.4 338.3,1468.2 338.5,1440.2 338.7,1437.6 338.8,1436.5 339.0,1415.2 339.2,1384.3 339.4,1358.6 339.6,1361.2 339.7,1362.8 339.9,1361.5 340.1,1365.9 340.3,1364.7 340.5,1364.9 340.6,1367.0 340.8,1366.6 341.0,1415.0 341.2,1440.5 341.4,1439.4 341.5,1432.9 341.7,1459.2 341.9,1461.9 342.1,1460.9 342.3,1443.5 342.4,1408.5 342.6,1402.8 342.8,1406.4 343.0,1407.5 343.2,1405.7 343.4,1401.7 343.5,1399.9 343.7,1408.6 343.9,1416.6 344.1,1454.0 344.3,1463.0 344.4,1463.5 344.6,1464.4 344.8,1460.5 345.0,1462.9 345.2,1465.0 345.3,1448.9 345.5,1389.5 345.7,1363.4 345.9,1360.8 346.1,1363.5 346.2,1359.5 346.4,1367.6 346.6,1368.0 346.8,1365.5 347.0,1387.3 347.2,1452.4 347.3,1461.9 347.5,1464.8 347.7,1464.7 347.9,1463.9 348.1,1461.0 348.2,1461.4 348.4,1406.4 348.6,1370.9 348.8,1366.5 349.0,1365.7 349.1,1370.4 349.3,1367.7 349.5,1367.6 349.7,1366.2 349.9,1364.6 350.0,1403.7 350.2,1458.1 350.4,1464.2 350.6,1465.5 350.8,1465.0 350.9,1461.8 351.1,1462.1 351.3,1461.5 351.5,1466.8 351.7,1448.7 351.9,1390.8 352.0,1382.2 352.2,1383.7 352.4,1385.4 352.6,1382.2 352.8,1378.2 352.9,1398.5 353.1,1439.5 353.3,1459.4 353.5,1466.7 353.7,1467.0 353.8,1473.5 354.0,1471.8 354.2,1449.6 354.4,1386.8 354.6,1356.4 354.7,1357.6 354.9,1353.8 355.1,1350.6 355.3,1350.1 355.5,1356.4 355.7,1351.4 355.8,1388.1 356.0,1457.2 356.2,1466.6 356.4,1473.4 356.6,1463.5 356.7,1475.1 356.9,1471.0 357.1,1474.7 357.3,1443.3 357.5,1395.1 357.6,1349.5 357.8,1342.0 358.0,1348.6 358.2,1350.1 358.4,1349.6 358.5,1336.3 358.7,1341.9 358.9,1347.8 359.1,1347.3 359.3,1393.9 359.5,1459.8 359.6,1474.4 359.8,1475.7 360.0,1471.9 360.2,1467.4 360.4,1469.1 360.5,1451.6 360.7,1380.4 360.9,1339.0 361.1,1340.5 361.3,1345.2 361.4,1343.5 361.6,1334.5 361.8,1341.5 362.0,1340.3 362.2,1397.0 362.3,1470.4 362.5,1471.6 362.7,1467.8 362.9,1469.3 363.1,1474.4 363.2,1464.8 363.4,1469.3 363.6,1408.4 363.8,1335.8 364.0,1338.5 364.2,1336.1 364.3,1334.2 364.5,1331.4 364.7,1340.7 364.9,1338.0 365.1,1343.3 365.2,1332.5 365.4,1421.9 365.6,1469.8 365.8,1470.9 366.0,1474.6 366.1,1472.8 366.3,1478.1 366.5,1477.9 366.7,1468.7 366.9,1414.3 367.0,1391.9 367.2,1375.1 367.4,1389.5 367.6,1392.6 367.8,1385.8 368.0,1389.6 368.1,1385.5 368.3,1406.6 368.5,1472.1 368.7,1474.1 368.9,1478.4 369.0,1475.5 369.2,1478.7 369.4,1477.3 369.6,1475.5 369.8,1426.1 369.9,1373.0 370.1,1365.5 370.3,1362.2 370.5,1371.6 370.7,1363.7 370.8,1369.2 371.0,1366.4 371.2,1398.1 371.4,1458.9 371.6,1471.4 371.7,1472.4 371.9,1473.5 372.1,1474.3 372.3,1473.9 372.5,1471.9 372.7,1425.2 372.8,1340.4 373.0,1324.8 373.2,1325.4 373.4,1328.8 373.6,1330.4 373.7,1334.1 373.9,1325.6 374.1,1355.1 374.3,1464.1 374.5,1464.1 374.6,1481.1 374.8,1480.9 375.0,1473.1 375.2,1481.2 375.4,1461.3 375.5,1399.7 375.7,1350.3 375.9,1341.2 376.1,1346.0 376.3,1345.4 376.5,1348.9 376.6,1350.2 376.8,1346.7 377.0,1343.7 377.2,1408.5 377.4,1472.0 377.5,1475.3 377.7,1481.2 377.9,1469.2 378.1,1474.8 378.3,1480.1 378.4,1475.5 378.6,1390.9 378.8,1316.1 379.0,1321.2 379.2,1319.2 379.3,1328.8 379.5,1336.4 379.7,1315.8 379.9,1319.2 380.1,1343.3 380.2,1422.9 380.4,1468.3 380.6,1473.8 380.8,1477.9 381.0,1473.2 381.2,1471.9 381.3,1481.0 381.5,1473.5 381.7,1470.4 381.9,1362.1 382.1,1305.7 382.2,1300.6 382.4,1302.4 382.6,1311.5 382.8,1308.9 383.0,1303.6 383.1,1301.2 383.3,1300.6 383.5,1367.5 383.7,1460.1 383.9,1464.9 384.0,1475.2 384.2,1479.8 384.4,1484.4 384.6,1474.5 384.8,1472.2 385.0,1427.3 385.1,1320.6 385.3,1318.1 385.5,1316.4 385.7,1319.6 385.9,1323.7 386.0,1325.7 386.2,1318.0 386.4,1329.3 386.6,1378.4 386.8,1473.9 386.9,1478.2 387.1,1484.3 387.3,1483.0 387.5,1484.3 387.7,1483.7 387.8,1408.3 388.0,1365.9 388.2,1318.4 388.4,1317.2 388.6,1303.5 388.7,1312.6 388.9,1311.2 389.1,1315.9 389.3,1305.0 389.5,1311.8 389.7,1322.4 389.8,1370.4 390.0,1440.6 390.2,1477.8 390.4,1482.6 390.6,1475.2 390.7,1478.2 390.9,1484.9 391.1,1480.3 391.3,1435.7 391.5,1326.1 391.6,1326.7 391.8,1326.0 392.0,1332.0 392.2,1321.4 392.4,1322.9 392.5,1318.5 392.7,1341.8 392.9,1401.3 393.1,1464.5 393.3,1476.4 393.5,1482.0 393.6,1469.6 393.8,1477.6 394.0,1470.2 394.2,1459.9 394.4,1381.9 394.5,1351.7 394.7,1346.8 394.9,1341.6 395.1,1341.2 395.3,1341.8 395.4,1345.4 395.6,1348.6 395.8,1349.0 396.0,1373.7 396.2,1424.3 396.3,1468.5 396.5,1478.7 396.7,1478.0 396.9,1476.3 397.1,1483.3 397.3,1480.3 397.4,1482.2 397.6,1379.0 397.8,1297.7 398.0,1290.8 398.2,1295.3 398.3,1301.7 398.5,1296.1 398.7,1301.4 398.9,1297.9 399.1,1291.5 399.2,1351.5 399.4,1467.7 399.6,1481.1 399.8,1475.8 400.0,1484.7 400.1,1480.2 400.3,1484.3 400.5,1479.1 400.7,1417.3 400.9,1323.3 401.0,1311.2 401.2,1311.8 401.4,1303.3 401.6,1315.8 401.8,1319.4 402.0,1305.6 402.1,1314.8 402.3,1320.0 402.5,1369.6 402.7,1466.2 402.9,1487.7 403.0,1474.9 403.2,1485.3 403.4,1481.1 403.6,1481.8 403.8,1486.9 403.9,1392.2 404.1,1303.7 404.3,1315.4 404.5,1317.0 404.7,1310.0 404.8,1317.1 405.0,1315.4 405.2,1312.7 405.4,1399.5 405.6,1481.3 405.8,1486.8 405.9,1477.5 406.1,1450.9 406.3,1456.8 406.5,1442.4 406.7,1437.2 406.8,1375.0 407.0,1315.1 407.2,1314.2 407.4,1310.2 407.6,1312.2 407.7,1310.0 407.9,1317.3 408.1,1313.7 408.3,1304.1 408.5,1379.8 408.6,1433.3 408.8,1439.9 409.0,1437.8 409.2,1487.8 409.4,1484.7 409.5,1483.8 409.7,1468.1 409.9,1336.1 410.1,1288.3 410.3,1293.3 410.5,1292.6 410.6,1282.4 410.8,1286.0 411.0,1294.0 411.2,1324.0 411.4,1419.2 411.5,1485.6 411.7,1485.5 411.9,1489.0 412.1,1474.9 412.3,1486.7 412.4,1491.5 412.6,1434.7 412.8,1318.3 413.0,1294.1 413.2,1294.1 413.3,1288.2 413.5,1289.1 413.7,1285.6 413.9,1296.3 414.1,1301.1 414.3,1412.5 414.4,1477.1 414.6,1475.4 414.8,1483.3 415.0,1483.2 415.2,1493.1 415.3,1488.1 415.5,1483.3 415.7,1381.4 415.9,1274.4 416.1,1263.4 416.2,1266.0 416.4,1257.9 416.6,1258.8 416.8,1255.3 417.0,1265.6 417.1,1313.7 417.3,1449.5 417.5,1467.5 417.7,1481.6 417.9,1482.2 418.0,1492.0 418.2,1476.0 418.4,1484.8 418.6,1353.3 418.8,1252.9 419.0,1245.0 419.1,1235.8 419.3,1237.9 419.5,1238.6 419.7,1245.9 419.9,1253.2 420.0,1342.6 420.2,1464.3 420.4,1493.9 420.6,1490.6 420.8,1486.7 420.9,1471.4 421.1,1493.8 421.3,1487.6 421.5,1411.7 421.7,1303.4 421.8,1255.8 422.0,1254.3 422.2,1249.6 422.4,1254.5 422.6,1240.2 422.8,1258.4 422.9,1254.9 423.1,1253.6 423.3,1284.4 423.5,1371.4 423.7,1482.5 423.8,1489.9 424.0,1494.1 424.2,1490.8 424.4,1481.1 424.6,1482.2 424.7,1480.0 424.9,1348.4 425.1,1256.8 425.3,1257.4 425.5,1257.9 425.6,1250.6 425.8,1261.6 426.0,1261.2 426.2,1247.6 426.4,1266.3 426.5,1310.6 426.7,1439.0 426.9,1487.9 427.1,1494.1 427.3,1480.4 427.5,1479.7 427.6,1486.0 427.8,1481.8 428.0,1488.6 428.2,1443.7 428.4,1284.6 428.5,1258.0 428.7,1274.4 428.9,1257.0 429.1,1253.5 429.3,1260.6 429.4,1279.1 429.6,1371.1 429.8,1485.7 430.0,1480.7 430.2,1473.1 430.3,1473.6 430.5,1478.8 430.7,1409.0 430.9,1286.8 431.1,1296.8 431.3,1291.9 431.4,1294.4 431.6,1281.3 431.8,1287.0 432.0,1296.0 432.2,1340.4 432.3,1433.2 432.5,1475.4 432.7,1476.7 432.9,1480.9 433.1,1487.8 433.2,1498.7 433.4,1492.1 433.6,1461.7 433.8,1334.4 434.0,1254.7 434.1,1252.5 434.3,1266.8 434.5,1254.0 434.7,1257.6 434.9,1259.3 435.1,1266.5 435.2,1274.5 435.4,1384.7 435.6,1492.3 435.8,1483.4 436.0,1487.8 436.1,1494.2 436.3,1483.8 436.5,1485.4 436.7,1385.6 436.9,1253.7 437.0,1250.1 437.2,1246.9 437.4,1245.4 437.6,1251.8 437.8,1250.9 437.9,1260.2 438.1,1267.4 438.3,1320.9 438.5,1476.6 438.7,1480.5 438.8,1492.0 439.0,1495.8 439.2,1479.5 439.4,1474.8 439.6,1401.8 439.8,1301.7 439.9,1222.5 440.1,1231.2 440.3,1224.0 440.5,1224.6 440.7,1217.2 440.8,1230.2 441.0,1211.5 441.2,1229.1 441.4,1358.0 441.6,1487.5 441.7,1495.3 441.9,1442.2 442.1,1451.2 442.3,1439.4 442.5,1339.2 442.6,1248.9 442.8,1253.1 443.0,1247.7 443.2,1252.5 443.4,1260.4 443.6,1241.9 443.7,1239.5 443.9,1282.4 444.1,1423.9 444.3,1437.1 444.5,1433.7 444.6,1441.8 444.8,1490.8 445.0,1490.1 445.2,1484.1 445.4,1496.4 445.5,1475.0 445.7,1373.6 445.9,1312.7 446.1,1204.4 446.3,1191.0 446.4,1192.7 446.6,1196.0 446.8,1187.9 447.0,1198.8 447.2,1186.9 447.3,1198.8 447.5,1284.5 447.7,1405.4 447.9,1494.8 448.1,1495.8 448.3,1489.5 448.4,1486.2 448.6,1483.4 448.8,1486.8 449.0,1405.7 449.2,1264.5 449.3,1218.2 449.5,1251.3 449.7,1234.6 449.9,1229.2 450.1,1243.1 450.2,1229.3 450.4,1324.2 450.6,1484.4 450.8,1470.2 451.0,1477.8 451.1,1482.2 451.3,1493.7 451.5,1488.3 451.7,1492.6 451.9,1477.2 452.1,1275.9 452.2,1230.3 452.4,1223.4 452.6,1208.3 452.8,1195.5 453.0,1210.0 453.1,1193.6 453.3,1205.1 453.5,1199.2 453.7,1234.6 453.9,1326.8 454.0,1468.7 454.2,1488.0 454.4,1495.0 454.6,1491.6 454.8,1467.6 454.9,1474.5 455.1,1406.0 455.3,1229.7 455.5,1213.3 455.7,1209.6 455.8,1205.5 456.0,1216.7 456.2,1203.2 456.4,1226.6 456.6,1215.8 456.8,1230.8 456.9,1399.7 457.1,1474.9 457.3,1468.6 457.5,1484.5 457.7,1484.3 457.8,1485.0 458.0,1484.7 458.2,1471.5 458.4,1460.5 458.6,1279.8 458.7,1165.8 458.9,1167.1 459.1,1176.6 459.3,1189.2 459.5,1175.5 459.6,1186.1 459.8,1171.2 460.0,1212.9 460.2,1290.5 460.4,1423.7 460.6,1477.8 460.7,1482.8 460.9,1465.7 461.1,1475.7 461.3,1474.8 461.5,1480.6 461.6,1388.7 461.8,1231.6 462.0,1127.5 462.2,1140.7 462.4,1147.3 462.5,1136.4 462.7,1137.9 462.9,1151.6 463.1,1146.8 463.3,1152.2 463.4,1153.2 463.6,1304.2 463.8,1435.9 464.0,1478.6 464.2,1483.7 464.3,1492.1 464.5,1497.4 464.7,1473.9 464.9,1247.9 465.1,1133.3 465.3,1130.2 465.4,1132.9 465.6,1141.6 465.8,1147.3 466.0,1145.3 466.2,1132.1 466.3,1134.2 466.5,1273.3 466.7,1451.2 466.9,1468.0 467.1,1496.7 467.2,1476.2 467.4,1475.7 467.6,1459.7 467.8,1453.9 468.0,1387.0 468.1,1238.9 468.3,1176.6 468.5,1195.7 468.7,1196.7 468.9,1177.7 469.1,1170.5 469.2,1192.0 469.4,1166.7 469.6,1265.9 469.8,1413.1 470.0,1470.2 470.1,1449.8 470.3,1478.4 470.5,1486.0 470.7,1485.6 470.9,1479.1 471.0,1373.0 471.2,1197.3 471.4,1110.0 471.6,1100.2 471.8,1113.3 471.9,1106.5 472.1,1124.4 472.3,1101.7 472.5,1114.1 472.7,1167.0 472.9,1444.7 473.0,1501.7 473.2,1501.9 473.4,1483.1 473.6,1486.3 473.8,1501.7 473.9,1501.4 474.1,1466.5 474.3,1282.1 474.5,1120.5 474.7,1104.4 474.8,1107.2 475.0,1089.3 475.2,1102.5 475.4,1111.1 475.6,1114.1 475.7,1108.8 475.9,1104.5 476.1,1160.7 476.3,1356.6 476.5,1496.0 476.6,1503.4 476.8,1503.2 477.0,1490.2 477.2,1503.4 477.4,1480.3 477.6,1477.5 477.7,1258.6 477.9,1178.7 478.1,1182.3 478.3,1168.4 478.5,1166.0 478.6,1158.6 478.8,1198.2 479.0,1163.2 479.2,1244.1 479.4,1421.4 479.5,1488.9 479.7,1499.4 479.9,1500.2 480.1,1503.0 480.3,1486.7 480.4,1491.9 480.6,1399.3 480.8,1173.6 481.0,1125.0 481.2,1112.0 481.4,1111.3 481.5,1125.0 481.7,1135.4 481.9,1119.1 482.1,1143.9 482.3,1107.4 482.4,1166.5 482.6,1431.5 482.8,1493.0 483.0,1502.3 483.2,1489.8 483.3,1486.8 483.5,1475.8 483.7,1483.8 483.9,1384.8 484.1,1223.2 484.2,1172.1 484.4,1148.2 484.6,1152.1 484.8,1143.0 485.0,1142.0 485.1,1145.3 485.3,1143.0 485.5,1138.4 485.7,1145.1 485.9,1183.3 486.1,1293.7 486.2,1458.8 486.4,1486.4 486.6,1481.4 486.8,1442.7 487.0,1444.9 487.1,1451.8 487.3,1441.7 487.5,1314.2 487.7,1177.1 487.9,1164.8 488.0,1185.6 488.2,1173.6 488.4,1172.2 488.6,1178.0 488.8,1179.1 488.9,1269.1 489.1,1372.0 489.3,1432.8 489.5,1452.2 489.7,1491.0 489.9,1497.1 490.0,1485.3 490.2,1493.1 490.4,1343.9 490.6,1221.5 490.8,1192.0 490.9,1173.4 491.1,1182.8 491.3,1186.9 491.5,1186.4 491.7,1185.7 491.8,1237.5 492.0,1402.7 492.2,1481.9 492.4,1490.5 492.6,1472.9 492.7,1475.6 492.9,1492.3 493.1,1473.6 493.3,1467.0 493.5,1281.5 493.6,1149.4 493.8,1118.5 494.0,1113.8 494.2,1105.8 494.4,1128.1 494.6,1115.0 494.7,1131.6 494.9,1109.0 495.1,1210.1 495.3,1488.6 495.5,1492.4 495.6,1503.9 495.8,1493.6 496.0,1502.8 496.2,1491.9 496.4,1462.0 496.5,1319.9 496.7,1089.6 496.9,1037.6 497.1,1060.7 497.3,1042.1 497.4,1051.1 497.6,1044.3 497.8,1064.3 498.0,1079.5 498.2,1133.5 498.4,1296.0 498.5,1469.7 498.7,1502.3 498.9,1491.6 499.1,1503.2 499.3,1501.0 499.4,1484.5 499.6,1305.9 499.8,1118.3 500.0,1096.7 500.2,1093.8 500.3,1090.0 500.5,1103.2 500.7,1104.5 500.9,1102.5 501.1,1099.9 501.2,1134.7 501.4,1297.1 501.6,1500.9 501.8,1498.0 502.0,1503.6 502.1,1488.7 502.3,1491.6 502.5,1498.9 502.7,1322.0 502.9,1148.5 503.1,1058.6 503.2,1068.0 503.4,1064.1 503.6,1058.1 503.8,1076.6 504.0,1084.3 504.1,1202.5 504.3,1478.1 504.5,1504.1 504.7,1502.2 504.9,1500.7 505.0,1492.3 505.2,1470.7 505.4,1238.7 505.6,1081.4 505.8,1062.4 505.9,1052.1 506.1,1055.4 506.3,1075.7 506.5,1059.0 506.7,1042.7 506.9,1352.6 507.0,1490.6 507.2,1503.9 507.4,1482.0 507.6,1443.5 507.8,1481.5 507.9,1460.5 508.1,1437.3 508.3,1302.9 508.5,1088.3 508.7,1066.1 508.8,1070.7 509.0,1077.0 509.2,1064.5 509.4,1061.1 509.6,1035.1 509.7,1067.5 509.9,1228.2 510.1,1403.3 510.3,1464.9 510.5,1461.2 510.7,1490.7 510.8,1476.7 511.0,1487.0 511.2,1491.1 511.4,1386.5 511.6,1043.3 511.7,1014.2 511.9,1020.1 512.1,1028.1 512.3,1027.8 512.5,1000.0 512.6,1020.5 512.8,990.7 513.0,1029.2 513.2,1098.4 513.4,1430.7 513.5,1502.4 513.7,1502.7 513.9,1497.9 514.1,1472.5 514.3,1498.3 514.4,1450.2 514.6,1305.7 514.8,1052.1 515.0,1074.5 515.2,1053.3 515.4,1070.2 515.5,1038.7 515.7,1034.7 515.9,1029.5 516.1,1033.3 516.3,1026.7 516.4,1161.3 516.6,1441.5 516.8,1475.6 517.0,1497.8 517.2,1484.1 517.3,1503.2 517.5,1502.8 517.7,1492.9 517.9,1362.3 518.1,1102.3 518.2,999.7 518.4,1006.5 518.6,989.7 518.8,997.1 519.0,1011.9 519.2,992.4 519.3,1020.9 519.5,1305.7 519.7,1471.5 519.9,1494.0 520.1,1496.2 520.2,1502.2 520.4,1502.9 520.6,1465.1 520.8,1302.2 521.0,1064.1 521.1,1092.4 521.3,1093.0 521.5,1066.1 521.7,1101.4 521.9,1087.2 522.0,1091.6 522.2,1147.2 522.4,1353.3 522.6,1449.6 522.8,1502.7 522.9,1501.4 523.1,1465.4 523.3,1487.8 523.5,1423.6 523.7,1200.5 523.9,1028.0 524.0,1039.5 524.2,1018.6 524.4,1025.1 524.6,1011.4 524.8,1025.6 524.9,1001.1 525.1,1129.0 525.3,1501.6 525.5,1502.2 525.7,1502.0 525.8,1467.9 526.0,1478.2 526.2,1453.0 526.4,1351.1 526.6,1082.2 526.7,1057.7 526.9,1051.6 527.1,1056.7 527.3,1064.1 527.5,1049.6 527.7,1078.0 527.8,1060.0 528.0,1208.4 528.2,1430.6 528.4,1473.5 528.6,1493.8 528.7,1473.8 528.9,1467.4 529.1,1466.0 529.3,1281.5 529.5,1151.0 529.6,1105.8 529.8,1094.1 530.0,1115.1 530.2,1103.4 530.4,1107.2 530.5,1104.0 530.7,1102.2 530.9,1111.7 531.1,1131.8 531.3,1261.7 531.4,1496.7 531.6,1466.2 531.8,1458.6 532.0,1478.4 532.2,1480.9 532.4,1478.8 532.5,1353.2 532.7,1253.0 532.9,1076.0 533.1,1107.1 533.3,1096.0 533.4,1067.8 533.6,1094.0 533.8,1105.0 534.0,1082.2 534.2,1170.4 534.3,1407.5 534.5,1468.9 534.7,1482.2 534.9,1482.3 535.1,1491.5 535.2,1487.6 535.4,1491.6 535.6,1494.0 535.8,1386.0 536.0,1148.9 536.2,1048.1 536.3,1069.2 536.5,1072.3 536.7,1058.1 536.9,1051.8 537.1,1060.4 537.2,1112.1 537.4,1358.9 537.6,1482.0 537.8,1475.1 538.0,1474.7 538.1,1468.7 538.3,1482.0 538.5,1479.9 538.7,1440.0 538.9,1113.7 539.0,1098.7 539.2,1103.3 539.4,1112.1 539.6,1114.7 539.8,1101.3 539.9,1123.1 540.1,1103.1 540.3,1310.5 540.5,1489.5 540.7,1484.1 540.9,1483.8 541.0,1449.4 541.2,1481.1 541.4,1380.6 541.6,1129.8 541.8,1062.8 541.9,1067.3 542.1,1047.5 542.3,1040.6 542.5,1029.5 542.7,1050.0 542.8,1068.8 543.0,1297.8 543.2,1447.6 543.4,1460.8 543.6,1489.9 543.7,1470.6 543.9,1493.1 544.1,1503.4 544.3,1471.6 544.5,1433.7 544.7,1326.9 544.8,1147.3 545.0,1066.5 545.2,1062.4 545.4,1081.6 545.6,1056.4 545.7,1080.2 545.9,1082.0 546.1,1063.7 546.3,1059.8 546.5,1285.2 546.6,1457.9 546.8,1487.3 547.0,1478.5 547.2,1490.5 547.4,1487.9 547.5,1492.8 547.7,1366.0 547.9,1232.4 548.1,1122.4 548.3,1104.0 548.5,1121.2 548.6,1100.8 548.8,1113.5 549.0,1104.9 549.2,1131.2 549.4,1124.6 549.5,1215.5 549.7,1432.6 549.9,1481.4 550.1,1492.0 550.3,1503.0 550.4,1501.0 550.6,1475.0 550.8,1495.7 551.0,1439.2 551.2,1260.2 551.3,1136.7 551.5,1121.1 551.7,1128.3 551.9,1144.5 552.1,1145.8 552.2,1127.5 552.4,1146.2 552.6,1150.6 552.8,1137.5 553.0,1287.7 553.2,1439.2 553.3,1493.1 553.5,1492.2 553.7,1501.2 553.9,1485.8 554.1,1472.3 554.2,1478.2 554.4,1326.2 554.6,1172.0 554.8,1182.4 555.0,1180.6 555.1,1194.4 555.3,1193.9 555.5,1192.6 555.7,1197.2 555.9,1182.4 556.0,1276.0 556.2,1451.2 556.4,1479.4 556.6,1485.5 556.8,1481.8 557.0,1490.8 557.1,1484.9 557.3,1504.3 557.5,1494.1 557.7,1446.1 557.9,1297.7 558.0,1153.5 558.2,1154.7 558.4,1156.8 558.6,1146.0 558.8,1150.7 558.9,1139.6 559.1,1134.4 559.3,1148.4 559.5,1301.7 559.7,1474.7 559.8,1496.3 560.0,1495.7 560.2,1497.6 560.4,1494.6 560.6,1497.5 560.7,1466.4 560.9,1359.0 561.1,1129.8 561.3,1140.5 561.5,1146.3 561.7,1140.9 561.8,1147.4 562.0,1139.8 562.2,1164.8 562.4,1172.8 562.6,1438.4 562.7,1485.5 562.9,1504.9 563.1,1504.4 563.3,1482.7 563.5,1504.7 563.6,1428.3 563.8,1225.0 564.0,1090.2 564.2,1082.7 564.4,1077.2 564.5,1113.7 564.7,1095.5 564.9,1114.1 565.1,1098.6 565.3,1139.4 565.5,1323.2 565.6,1461.6 565.8,1493.7 566.0,1490.5 566.2,1495.7 566.4,1491.6 566.5,1487.1 566.7,1416.6 566.9,1234.9 567.1,1087.2 567.3,1088.3 567.4,1069.3 567.6,1059.0 567.8,1074.5 568.0,1092.9 568.2,1083.9 568.3,1073.3 568.5,1213.5 568.7,1379.5 568.9,1497.8 569.1,1498.4 569.2,1504.5 569.4,1504.0 569.6,1488.7 569.8,1484.2 570.0,1334.8 570.2,1074.2 570.3,1045.6 570.5,1046.6 570.7,1068.4 570.9,1062.2 571.1,1053.4 571.2,1053.1 571.4,1043.0 571.6,1043.2 571.8,1374.0 572.0,1478.1 572.1,1496.3 572.3,1504.6 572.5,1482.0 572.7,1490.5 572.9,1490.2 573.0,1498.0 573.2,1419.5 573.4,1116.6 573.6,1077.9 573.8,1046.6 574.0,1050.9 574.1,1046.0 574.3,1059.3 574.5,1052.7 574.7,1058.8 574.9,1086.2 575.0,1267.4 575.2,1439.6 575.4,1479.3 575.6,1485.0 575.8,1486.8 575.9,1498.5 576.1,1503.6 576.3,1487.1 576.5,1502.1 576.7,1370.9 576.8,1125.3 577.0,1108.3 577.2,1109.6 577.4,1089.0 577.6,1087.4 577.7,1105.1 577.9,1099.2 578.1,1170.8 578.3,1335.5 578.5,1496.6 578.7,1487.2 578.8,1504.1 579.0,1494.7 579.2,1444.8 579.4,1464.3 579.6,1465.2 579.7,1303.6 579.9,1112.7 580.1,1072.8 580.3,1095.2 580.5,1090.7 580.6,1069.3 580.8,1081.4 581.0,1093.4 581.2,1102.3 581.4,1135.9 581.5,1361.5 581.7,1460.4 581.9,1483.3 582.1,1495.2 582.3,1501.2 582.5,1504.6 582.6,1494.7 582.8,1432.0 583.0,1138.7 583.2,1096.5 583.4,1071.0 583.5,1079.0 583.7,1075.5 583.9,1082.5 584.1,1073.8 584.3,1086.3 584.4,1090.9 584.6,1363.4 584.8,1493.1 585.0,1490.7 585.2,1468.4 585.3,1469.3 585.5,1503.8 585.7,1492.9 585.9,1478.4 586.1,1381.3 586.2,1121.7 586.4,1108.9 586.6,1115.3 586.8,1136.2 587.0,1114.4 587.2,1119.0 587.3,1115.3 587.5,1262.9 587.7,1445.5 587.9,1480.0 588.1,1479.2 588.2,1504.5 588.4,1496.6 588.6,1481.9 588.8,1485.9 589.0,1466.1 589.1,1335.1 589.3,1169.9 589.5,1118.9 589.7,1100.8 589.9,1102.0 590.0,1107.6 590.2,1124.7 590.4,1107.5 590.6,1108.9 590.8,1105.6 591.0,1211.8 591.1,1407.9 591.3,1473.6 591.5,1468.0 591.7,1504.0 591.9,1492.3 592.0,1483.0 592.2,1485.2 592.4,1485.7 592.6,1446.7 592.8,1252.1 592.9,1153.3 593.1,1151.7 593.3,1126.0 593.5,1152.4 593.7,1140.3 593.8,1147.9 594.0,1145.5 594.2,1226.9 594.4,1423.2 594.6,1477.8 594.8,1490.3 594.9,1493.9 595.1,1489.5 595.3,1492.2 595.5,1466.9 595.7,1330.0 595.8,1139.2 596.0,1127.8 596.2,1118.7 596.4,1111.4 596.6,1131.3 596.7,1125.1 596.9,1118.5 597.1,1303.3 597.3,1492.2 597.5,1474.0 597.6,1492.1 597.8,1489.6 598.0,1503.4 598.2,1501.8 598.4,1401.2 598.5,1229.9 598.7,1219.6 598.9,1228.2 599.1,1229.2 599.3,1214.8 599.5,1208.5 599.6,1222.3 599.8,1222.3 600.0,1233.7 600.2,1277.4 600.4,1434.2 600.5,1494.5 600.7,1485.3 600.9,1502.9 601.1,1499.0 601.3,1503.7 601.4,1500.1 601.6,1495.8 601.8,1421.1 602.0,1203.7 602.2,1102.7 602.3,1123.0 602.5,1120.1 602.7,1103.4 602.9,1116.0 603.1,1130.4 603.3,1114.1 603.4,1125.6 603.6,1269.2 603.8,1500.3 604.0,1481.5 604.2,1503.8 604.3,1491.3 604.5,1503.4 604.7,1464.5 604.9,1488.9 605.1,1443.7 605.2,1220.8 605.4,1126.0 605.6,1122.7 605.8,1105.1 606.0,1111.3 606.1,1131.4 606.3,1123.8 606.5,1127.7 606.7,1177.6 606.9,1355.3 607.0,1492.3 607.2,1503.0 607.4,1487.6 607.6,1499.4 607.8,1481.3 608.0,1491.2 608.1,1390.9 608.3,1148.0 608.5,1161.0 608.7,1112.8 608.9,1124.0 609.0,1124.4 609.2,1123.1 609.4,1128.5 609.6,1141.2 609.8,1233.1 609.9,1464.7 610.1,1502.7 610.3,1488.2 610.5,1493.0 610.7,1471.9 610.8,1478.8 611.0,1488.7 611.2,1405.1 611.4,1237.9 611.6,1182.9 611.8,1178.9 611.9,1171.7 612.1,1167.8 612.3,1192.5 612.5,1179.7 612.7,1223.9 612.8,1292.7 613.0,1433.6 613.2,1476.6 613.4,1475.6 613.6,1479.4 613.7,1482.0 613.9,1483.4 614.1,1494.6 614.3,1416.2 614.5,1296.8 614.6,1200.3 614.8,1207.9 615.0,1186.4 615.2,1215.1 615.4,1201.5 615.5,1196.4 615.7,1211.3 615.9,1245.1 616.1,1396.4 616.3,1473.2 616.5,1479.1 616.6,1499.4 616.8,1499.2 617.0,1501.2 617.2,1478.4 617.4,1419.1 617.5,1290.1 617.7,1210.1 617.9,1215.8 618.1,1224.8 618.3,1211.2 618.4,1241.0 618.6,1213.0 618.8,1220.6 619.0,1326.7 619.2,1422.2 619.3,1483.1 619.5,1499.3 619.7,1490.5 619.9,1491.1 620.1,1488.8 620.3,1480.3 620.4,1491.4 620.6,1493.9 620.8,1340.5 621.0,1180.2 621.2,1182.9 621.3,1188.1 621.5,1181.7 621.7,1197.6 621.9,1202.2 622.1,1204.3 622.2,1254.5 622.4,1406.2 622.6,1498.0 622.8,1466.2 623.0,1488.8 623.1,1499.5 623.3,1500.3 623.5,1494.6 623.7,1494.8 623.9,1416.8 624.0,1206.6 624.2,1165.8 624.4,1166.2 624.6,1154.5 624.8,1176.8 625.0,1167.1 625.1,1177.4 625.3,1166.1 625.5,1165.4 625.7,1255.7 625.9,1398.4 626.0,1495.4 626.2,1498.5 626.4,1496.5 626.6,1498.1 626.8,1500.1 626.9,1497.8 627.1,1497.6 627.3,1335.5 627.5,1185.2 627.7,1154.9 627.8,1175.1 628.0,1183.1 628.2,1173.1 628.4,1171.6 628.6,1152.7 628.8,1291.8 628.9,1439.0 629.1,1494.5 629.3,1496.9 629.5,1479.0 629.7,1492.0 629.8,1471.0 630.0,1477.0 630.2,1329.7 630.4,1275.1 630.6,1173.9 630.7,1169.4 630.9,1184.2 631.1,1178.9 631.3,1186.0 631.5,1181.7 631.6,1177.9 631.8,1208.5 632.0,1395.1 632.2,1491.6 632.4,1479.7 632.6,1496.2 632.7,1490.5 632.9,1489.6 633.1,1463.4 633.3,1376.3 633.5,1282.3 633.6,1179.6 633.8,1194.5 634.0,1198.0 634.2,1189.5 634.4,1183.2 634.5,1189.9 634.7,1233.9 634.9,1408.4 635.1,1490.2 635.3,1494.6 635.4,1491.6 635.6,1495.1 635.8,1497.3 636.0,1494.4 636.2,1469.7 636.3,1292.9 636.5,1253.2 636.7,1236.3 636.9,1233.5 637.1,1243.9 637.3,1241.1 637.4,1249.0 637.6,1243.0 637.8,1288.5 638.0,1388.5 638.2,1483.0 638.3,1497.3 638.5,1493.5 638.7,1483.5 638.9,1474.1 639.1,1483.3 639.2,1407.4 639.4,1302.0 639.6,1288.7 639.8,1279.9 640.0,1274.0 640.1,1293.4 640.3,1283.5 640.5,1281.0 640.7,1287.2 640.9,1288.7 641.1,1342.8 641.2,1434.0 641.4,1478.3 641.6,1491.1 641.8,1481.3 642.0,1495.2 642.1,1487.2 642.3,1483.3 642.5,1449.2 642.7,1331.7 642.9,1331.0 643.0,1313.6 643.2,1325.2 643.4,1324.6 643.6,1330.7 643.8,1328.8 643.9,1325.2 644.1,1347.1 644.3,1420.3 644.5,1488.0 644.7,1494.1 644.8,1486.1 645.0,1489.3 645.2,1492.6 645.4,1492.5 645.6,1492.6 645.8,1477.4 645.9,1394.1 646.1,1244.8 646.3,1261.5 646.5,1243.5 646.7,1235.7 646.8,1250.0 647.0,1244.1 647.2,1254.0 647.4,1247.4 647.6,1392.2 647.7,1492.5 647.9,1480.4 648.1,1487.6 648.3,1482.0 648.5,1491.6 648.6,1479.0 648.8,1488.3 649.0,1453.8 649.2,1379.7 649.4,1283.3 649.6,1268.4 649.7,1266.0 649.9,1270.4 650.1,1278.7 650.3,1269.2 650.5,1260.3 650.6,1260.4 650.8,1272.6 651.0,1366.3 651.2,1481.9 651.4,1489.9 651.5,1483.5 651.7,1482.5 651.9,1479.3 652.1,1489.2 652.3,1440.7 652.4,1279.5 652.6,1253.1 652.8,1266.4 653.0,1268.0 653.2,1252.0 653.3,1260.9 653.5,1273.6 653.7,1397.1 653.9,1460.9 654.1,1481.5 654.3,1488.3 654.4,1486.6 654.6,1415.2 654.8,1431.4 655.0,1419.7 655.2,1405.5 655.3,1325.7 655.5,1284.4 655.7,1284.6 655.9,1267.9 656.1,1288.8 656.2,1287.2 656.4,1280.2 656.6,1278.7 656.8,1379.6 657.0,1432.9 657.1,1429.1 657.3,1429.9 657.5,1483.2 657.7,1487.1 657.9,1483.5 658.1,1475.4 658.2,1451.5 658.4,1362.8 658.6,1340.3 658.8,1335.5 659.0,1321.2 659.1,1332.1 659.3,1334.4 659.5,1354.8 659.7,1349.1 659.9,1403.9 660.0,1483.3 660.2,1486.0 660.4,1477.9 660.6,1469.3 660.8,1472.8 660.9,1475.0 661.1,1485.0 661.3,1429.2 661.5,1315.2 661.7,1272.0 661.8,1279.5 662.0,1285.3 662.2,1274.4 662.4,1269.9 662.6,1277.8 662.8,1275.4 662.9,1338.1 663.1,1453.0 663.3,1476.4 663.5,1479.1 663.7,1476.8 663.8,1470.2 664.0,1469.7 664.2,1464.5 664.4,1431.3 664.6,1347.2 664.7,1291.9 664.9,1292.7 665.1,1293.2 665.3,1297.4 665.5,1299.0 665.6,1295.3 665.8,1300.7 666.0,1338.3 666.2,1457.9 666.4,1481.7 666.6,1470.4 666.7,1476.6 666.9,1476.9 667.1,1475.6 667.3,1440.9 667.5,1362.7 667.6,1301.6 667.8,1302.3 668.0,1301.2 668.2,1293.6 668.4,1297.4 668.5,1304.1 668.7,1300.6 668.9,1334.2 669.1,1421.8 669.3,1484.2 669.4,1483.7 669.6,1470.2 669.8,1472.5 670.0,1481.8 670.2,1475.0 670.4,1483.6 670.5,1431.9 670.7,1344.1 670.9,1342.9 671.1,1346.1 671.3,1347.4 671.4,1346.4 671.6,1337.9 671.8,1350.2 672.0,1347.3 672.2,1375.8 672.3,1471.4 672.5,1469.6 672.7,1482.1 672.9,1479.1 673.1,1480.1 673.2,1478.3 673.4,1481.9 673.6,1435.1 673.8,1364.7 674.0,1312.1 674.1,1304.7 674.3,1318.2 674.5,1310.4 674.7,1302.8 674.9,1314.8 675.1,1371.6 675.2,1473.4 675.4,1480.0 675.6,1476.5 675.8,1481.8 676.0,1477.0 676.1,1481.8 676.3,1436.4 676.5,1342.9 676.7,1336.4 676.9,1333.7 677.0,1324.0 677.2,1333.2 677.4,1332.6 677.6,1331.0 677.8,1340.5 677.9,1384.9 678.1,1452.1 678.3,1477.7 678.5,1477.1 678.7,1469.8 678.9,1475.2 679.0,1472.0 679.2,1466.8 679.4,1453.0 679.6,1343.4 679.8,1330.1 679.9,1316.9 680.1,1310.0 680.3,1317.4 680.5,1315.4 680.7,1309.0 680.8,1325.6 681.0,1326.2 681.2,1384.5 681.4,1458.1 681.6,1472.6 681.7,1478.7 681.9,1468.8 682.1,1470.7 682.3,1480.5 682.5,1480.1 682.6,1479.9 682.8,1453.0 683.0,1404.5 683.2,1375.4 683.4,1335.0 683.6,1339.8 683.7,1343.5 683.9,1350.9 684.1,1338.5 684.3,1337.7 684.5,1339.7 684.6,1400.2 684.8,1452.7 685.0,1477.2 685.2,1474.0 685.4,1473.4 685.5,1471.8 685.7,1473.1 685.9,1479.5 686.1,1473.9 686.3,1376.2 686.4,1306.9 686.6,1307.6 686.8,1308.0 687.0,1305.9 687.2,1305.1 687.4,1303.6 687.5,1315.1 687.7,1338.6 687.9,1398.5 688.1,1470.6 688.3,1476.4 688.4,1477.2 688.6,1466.6 688.8,1478.4 689.0,1470.0 689.2,1446.5 689.3,1390.2 689.5,1316.7 689.7,1309.8 689.9,1313.5 690.1,1310.0 690.2,1302.7 690.4,1312.7 690.6,1309.4 690.8,1314.7 691.0,1380.5 691.1,1468.1 691.3,1477.3 691.5,1473.0 691.7,1474.4 691.9,1467.3 692.1,1439.4 692.2,1377.0 692.4,1326.0 692.6,1325.2 692.8,1330.9 693.0,1323.5 693.1,1328.0 693.3,1328.7 693.5,1331.2 693.7,1326.3 693.9,1391.3 694.0,1471.9 694.2,1471.6 694.4,1477.4 694.6,1465.2 694.8,1471.8 694.9,1466.0 695.1,1467.8 695.3,1413.7 695.5,1334.6 695.7,1329.5 695.9,1326.1 696.0,1325.9 696.2,1327.1 696.4,1334.8 696.6,1334.1 696.8,1330.7 696.9,1348.3 697.1,1436.1 697.3,1473.0 697.5,1474.4 697.7,1465.0 697.8,1473.3 698.0,1468.5 698.2,1467.9 698.4,1392.8 698.6,1353.7 698.7,1347.7 698.9,1344.6 699.1,1345.9 699.3,1349.8 699.5,1345.7 699.6,1347.8 699.8,1361.9 700.0,1439.8 700.2,1459.5 700.4,1470.7 700.6,1475.2 700.7,1467.9 700.9,1467.5 701.1,1468.5 701.3,1453.6 701.5,1399.4 701.6,1345.3 701.8,1343.3 702.0,1356.8 702.2,1352.3 702.4,1348.5 702.5,1357.8 702.7,1343.4 702.9,1369.4 703.1,1442.7 703.3,1473.4 703.4,1465.3 703.6,1470.7 703.8,1468.4 704.0,1473.3 704.2,1473.4 704.4,1429.0 704.5,1386.3 704.7,1334.3 704.9,1339.5 705.1,1335.2 705.3,1340.0 705.4,1341.8 705.6,1340.6 705.8,1341.1 706.0,1350.2 706.2,1438.0 706.3,1466.9 706.5,1467.9 706.7,1466.1 706.9,1472.7 707.1,1468.9 707.2,1472.2 707.4,1447.4 707.6,1417.3 707.8,1379.3 708.0,1363.1 708.2,1373.1 708.3,1368.9 708.5,1368.0 708.7,1367.1 708.9,1368.9 709.1,1377.1 709.2,1441.3 709.4,1467.8 709.6,1462.7 709.8,1469.3 710.0,1465.5 710.1,1465.9 710.3,1460.6 710.5,1389.7 710.7,1350.2 710.9,1357.1 711.0,1355.3 711.2,1359.2 711.4,1354.6 711.6,1358.2 711.8,1360.8 711.9,1425.4 712.1,1469.5 712.3,1466.9 712.5,1464.8 712.7,1469.1 712.9,1465.7 713.0,1466.5 713.2,1455.3 713.4,1410.4 713.6,1377.6 713.8,1376.3 713.9,1380.8 714.1,1380.8 714.3,1377.6 714.5,1381.5 714.7,1378.6 714.8,1396.3 715.0,1457.2 715.2,1463.9 715.4,1461.6 715.6,1469.4 715.7,1464.5 715.9,1429.8 716.1,1432.4 716.3,1430.5 716.5,1433.4 716.7,1398.4 716.8,1370.4 717.0,1365.5 717.2,1367.7 717.4,1367.8 717.6,1365.4 717.7,1367.3 717.9,1370.3 718.1,1369.5 718.3,1377.2 718.5,1409.3 718.6,1428.2 718.8,1426.4 719.0,1429.6 719.2,1467.4 719.4,1463.2 719.5,1468.1 719.7,1465.9 719.9,1417.5 720.1,1366.0 720.3,1366.4 720.4,1360.7 720.6,1362.7 720.8,1358.0 721.0,1362.9 721.2,1364.2 721.4,1366.3 721.5,1388.8 721.7,1455.3 721.9,1468.3 722.1,1467.9 722.3,1463.3 722.4,1462.2 722.6,1462.4 722.8,1448.0 723.0,1396.0 723.2,1365.5 723.3,1357.9 723.5,1360.0 723.7,1361.3 723.9,1363.7 724.1,1364.7 724.2,1363.6 724.4,1361.6 724.6,1370.3 724.8,1409.3 725.0,1454.5 725.2,1462.8 725.3,1464.4 725.5,1463.1 725.7,1462.6 725.9,1443.6 726.1,1410.4 726.2,1380.9 726.4,1380.4 726.6,1378.7 726.8,1383.7 727.0,1380.6 727.1,1376.1 727.3,1395.9 727.5,1433.7 727.7,1458.8 727.9,1457.3 728.0,1462.0 728.2,1461.5 728.4,1460.7 728.6,1459.2 728.8,1465.5 728.9,1440.1 729.1,1409.2 729.3,1394.3 729.5,1393.5 729.7,1400.6 729.9,1392.7 730.0,1394.9 730.2,1395.9 730.4,1394.0 730.6,1415.8 730.8,1453.0 730.9,1458.9 731.1,1458.6 731.3,1457.3 731.5,1456.2 731.7,1458.4 731.8,1436.7 732.0,1397.2 732.2,1386.5 732.4,1386.4 732.6,1391.7 732.7,1387.5 732.9,1386.9 733.1,1386.3 733.3,1393.1 733.5,1387.8 733.7,1400.2 733.8,1451.4 734.0,1456.4 734.2,1455.9 734.4,1456.9 734.6,1458.8 734.7,1459.0 734.9,1456.3 735.1,1456.1 735.3,1457.6 735.5,1458.6 735.6,1410.1 735.8,1391.4 736.0,1389.0 736.2,1386.3 736.4,1388.9 736.5,1389.3 736.7,1388.5 736.9,1388.8 737.1,1389.3 737.3,1403.2 737.4,1438.5 737.6,1458.0 737.8,1457.5 738.0,1458.7 738.2,1455.5 738.4,1459.7 738.5,1456.2 738.7,1447.7 738.9,1411.4 739.1,1382.0 739.3,1378.7 739.4,1376.7 739.6,1377.1 739.8,1380.7 740.0,1380.3 740.2,1381.6 740.3,1379.8 740.5,1392.1 740.7,1439.9 740.9,1458.7 741.1,1457.1 741.2,1459.2 741.4,1458.8 741.6,1458.6 741.8,1453.5 742.0,1410.6 742.2,1381.8 742.3,1378.4 742.5,1387.3 742.7,1382.9 742.9,1383.0 743.1,1377.6 743.2,1379.6 743.4,1386.9 743.6,1435.4 743.8,1457.3 744.0,1455.1 744.1,1461.5 744.3,1460.0 744.5,1457.2 744.7,1459.8 744.9,1456.3 745.0,1420.8 745.2,1377.1 745.4,1381.0 745.6,1377.6 745.8,1376.0 746.0,1379.3 746.1,1376.7 746.3,1379.5 746.5,1382.4 746.7,1415.1 746.9,1460.4 747.0,1457.3 747.2,1457.8 747.4,1458.7 747.6,1458.6 747.8,1457.1 747.9,1417.2 748.1,1395.6 748.3,1380.2 748.5,1384.8 748.7,1387.4 748.8,1383.8 749.0,1383.2 749.2,1382.9 749.4,1386.0 749.6,1385.8 749.7,1406.6 749.9,1444.3 750.1,1454.4 750.3,1455.1 750.5,1456.3 750.7,1455.8 750.8,1455.7 751.0,1456.5 751.2,1457.4 751.4,1449.3 751.6,1410.4 751.7,1399.1 751.9,1402.1 752.1,1399.9 752.3,1401.0 752.5,1400.3 752.6,1399.9 752.8,1400.5 753.0,1399.9 753.2,1414.9 753.4,1451.5 753.5,1455.3 753.7,1457.9 753.9,1457.4 754.1,1453.9 754.3,1454.0 754.5,1456.2 754.6,1449.5 754.8,1406.1 755.0,1397.5 755.2,1403.5 755.4,1403.4 755.5,1399.1 755.7,1398.6 755.9,1401.0 756.1,1399.3 756.3,1400.5 756.4,1431.3 756.6,1447.7 756.8,1452.3 757.0,1452.4 757.2,1454.8 757.3,1454.0 757.5,1456.2 757.7,1449.9 757.9,1423.7 758.1,1399.7 758.2,1400.3 758.4,1399.4 758.6,1400.6 758.8,1397.6 759.0,1401.7 759.2,1402.2 759.3,1400.3 759.5,1427.4 759.7,1455.1 759.9,1454.1 760.1,1454.2 760.2,1453.3 760.4,1451.4 760.6,1454.8 760.8,1440.0 761.0,1425.0 761.1,1401.1 761.3,1398.7 761.5,1396.7 761.7,1398.3 761.9,1400.0 762.0,1398.1 762.2,1398.4 762.4,1396.3 762.6,1416.4 762.8,1449.5 763.0,1451.5 763.1,1451.8 763.3,1451.0 763.5,1452.3 763.7,1452.7 763.9,1452.8 764.0,1435.1 764.2,1395.1 764.4,1396.3 764.6,1396.9 764.8,1395.8 764.9,1398.4 765.1,1392.5 765.3,1397.3 765.5,1405.8 765.7,1439.9 765.8,1450.8 766.0,1450.3 766.2,1451.3 766.4,1446.9 766.6,1449.3 766.7,1451.9 766.9,1431.3 767.1,1414.2 767.3,1402.8 767.5,1402.1 767.7,1403.7 767.8,1399.5 768.0,1402.3 768.2,1403.4 768.4,1404.9 768.6,1412.8 768.7,1444.1 768.9,1449.4 769.1,1449.9 769.3,1452.8 769.5,1451.9 769.6,1451.1 769.8,1445.5 770.0,1426.2 770.2,1414.0 770.4,1415.0 770.5,1414.4 770.7,1415.0 770.9,1415.4 771.1,1412.2 771.3,1416.0 771.5,1423.3 771.6,1441.6 771.8,1452.5 772.0,1448.3 772.2,1446.7 772.4,1438.0 772.5,1433.9 772.7,1435.3 772.9,1432.5 773.1,1434.5 773.3,1422.0 773.4,1408.3 773.6,1405.0 773.8,1405.1 774.0,1407.8 774.2,1405.0 774.3,1405.1 774.5,1405.4 774.7,1407.0 774.9,1424.2 775.1,1433.1 775.2,1436.7 775.4,1434.5 775.6,1451.7 775.8,1449.4 776.0,1449.1 776.2,1426.9 776.3,1399.7 776.5,1399.4 776.7,1399.7 776.9,1401.6 777.1,1400.1 777.2,1400.1 777.4,1403.0 777.6,1402.3 777.8,1400.2 778.0,1425.9 778.1,1446.7 778.3,1447.4 778.5,1451.7 778.7,1450.1 778.9,1451.3 779.0,1450.4 779.2,1419.8 779.4,1412.8 779.6,1413.2 779.8,1413.5 780.0,1413.5 780.1,1414.1 780.3,1414.4 780.5,1411.8 780.7,1413.2 780.9,1422.0 781.0,1429.3 781.2,1447.2 781.4,1449.6 781.6,1448.0 781.8,1449.0 781.9,1447.9 782.1,1447.5 782.3,1448.1 782.5,1443.3 782.7,1404.4 782.8,1403.4 783.0,1403.1 783.2,1404.4 783.4,1406.7 783.6,1403.7 783.8,1407.2 783.9,1406.8 784.1,1419.8 784.3,1442.8 784.5,1445.4 784.7,1447.6 784.8,1448.5 785.0,1450.8 785.2,1448.4 785.4,1447.6 785.6,1444.6 785.7,1421.3 785.9,1408.7 786.1,1409.2 786.3,1408.9 786.5,1409.7 786.6,1409.7 786.8,1411.2 787.0,1414.1 787.2,1431.1 787.4,1448.1 787.5,1447.4 787.7,1446.8 787.9,1447.3 788.1,1448.5 788.3,1446.9 788.5,1446.2 788.6,1439.7 788.8,1412.5 789.0,1410.4 789.2,1410.3 789.4,1408.4 789.5,1409.9 789.7,1408.9 789.9,1409.1 790.1,1419.0 790.3,1440.4 790.4,1445.8 790.6,1445.4 790.8,1445.9 791.0,1448.0 791.2,1448.1 791.3,1446.6 791.5,1444.3 791.7,1420.5 791.9,1412.3 792.1,1411.6 792.3,1411.1 792.4,1411.0 792.6,1410.8 792.8,1410.8 793.0,1411.9 793.2,1410.6 793.3,1421.1 793.5,1441.8 793.7,1444.0 793.9,1444.6 794.1,1444.2 794.2,1445.6 794.4,1447.5 794.6,1444.7 794.8,1445.8 795.0,1425.2 795.1,1415.8 795.3,1413.0 795.5,1411.8 795.7,1412.8 795.9,1413.3 796.0,1413.0 796.2,1412.4 796.4,1413.1 796.6,1415.8 796.8,1435.3 797.0,1445.5 797.1,1445.2 797.3,1444.7 797.5,1445.6 797.7,1442.6 797.9,1442.2 798.0,1444.5 798.2,1440.3 798.4,1423.2 798.6,1415.4 798.8,1411.4 798.9,1412.1 799.1,1412.0 799.3,1411.3 799.5,1411.8 799.7,1411.3 799.8,1412.4 800.0,1418.1 800.2,1442.2 800.4,1442.5 800.6,1441.9 800.8,1443.1 800.9,1443.2 801.1,1443.5 801.3,1441.0 801.5,1426.9 801.7,1418.1 801.8,1414.1 802.0,1414.3 802.2,1413.6 802.4,1414.1 802.6,1414.0 802.7,1414.8 802.9,1419.8 803.1,1437.0 803.3,1442.1 803.5,1442.9 803.6,1441.7 803.8,1441.9 804.0,1442.0 804.2,1442.0 804.4,1431.5 804.5,1412.9 804.7,1414.3 804.9,1412.6 805.1,1413.9 805.3,1411.3 805.5,1412.2 805.6,1413.6 805.8,1413.5 806.0,1413.4 806.2,1419.4 806.4,1440.7 806.5,1442.9 806.7,1440.6 806.9,1442.4 807.1,1442.9 807.3,1441.8 807.4,1443.0 807.6,1434.4 807.8,1419.0 808.0,1413.9 808.2,1416.2 808.3,1415.9 808.5,1415.8 808.7,1414.4 808.9,1415.9 809.1,1415.3 809.3,1417.6 809.4,1420.7 809.6,1434.5 809.8,1442.9 810.0,1441.7 810.2,1442.3 810.3,1441.6 810.5,1442.3 810.7,1436.3 810.9,1422.4 811.1,1417.8 811.2,1416.8 811.4,1415.5 811.6,1416.3 811.8,1416.3 812.0,1416.4 812.1,1415.4 812.3,1421.8 812.5,1430.7 812.7,1437.4 812.9,1443.3 813.0,1442.1 813.2,1441.7 813.4,1441.0 813.6,1442.4 813.8,1443.0 814.0,1442.4 814.1,1441.1 814.3,1438.7 814.5,1430.6 814.7,1426.7 814.9,1419.8 815.0,1418.7 815.2,1420.3 815.4,1420.4 815.6,1419.9 815.8,1419.8 815.9,1420.5 816.1,1433.9 816.3,1441.4 816.5,1441.6 816.7,1442.2 816.8,1440.8 817.0,1440.5 817.2,1440.3 817.4,1441.3 817.6,1433.8 817.8,1419.3 817.9,1416.9 818.1,1417.6 818.3,1416.7 818.5,1415.3 818.7,1416.9 818.8,1416.8 819.0,1417.4 819.2,1419.7 819.4,1435.1 819.6,1440.8 819.7,1440.9 819.9,1441.4 820.1,1440.0 820.3,1439.7 820.5,1440.3 820.6,1428.9 820.8,1419.0 821.0,1418.5 821.2,1417.9 821.4,1419.3 821.6,1419.5 821.7,1417.5 821.9,1418.7 822.1,1418.6 822.3,1419.8 822.5,1424.1 822.6,1437.6 822.8,1440.6 823.0,1441.2 823.2,1439.6 823.4,1440.9 823.5,1441.6 823.7,1435.1 823.9,1422.6 824.1,1419.5 824.3,1419.6 824.4,1419.6 824.6,1419.0 824.8,1419.0 825.0,1419.3 825.2,1420.8 825.3,1427.5 825.5,1437.7 825.7,1441.6 825.9,1440.7 826.1,1440.8 826.3,1440.6 826.4,1440.4 826.6,1440.9 826.8,1436.4 827.0,1426.8 827.2,1421.3 827.3,1421.1 827.5,1421.1 827.7,1421.4 827.9,1421.7 828.1,1422.0 828.2,1423.6 828.4,1431.6 828.6,1439.0 828.8,1440.9 829.0,1439.8 829.1,1440.1 829.3,1440.3 829.5,1440.3 829.7,1439.8 829.9,1437.2 830.1,1433.2 830.2,1425.3 830.4,1426.0 830.6,1424.8 830.8,1425.4 831.0,1425.0 831.1,1425.7 831.3,1425.2 831.5,1427.2 831.7,1436.8 831.9,1440.4 832.0,1439.8 832.2,1440.2 832.4,1440.8 832.6,1439.7 832.8,1440.6 832.9,1437.7 833.1,1429.7 833.3,1424.4 833.5,1424.7 833.7,1424.9 833.8,1424.7 834.0,1424.3 834.2,1425.1 834.4,1424.5 834.6,1432.6 834.8,1438.5 834.9,1440.6 835.1,1440.5 835.3,1439.7 835.5,1439.7 835.7,1440.1 835.8,1440.3 836.0,1437.8 836.2,1428.4 836.4,1423.4 836.6,1423.5 836.7,1423.4 836.9,1423.8 837.1,1423.6 837.3,1423.6 837.5,1424.3 837.6,1436.6 837.8,1439.7 838.0,1439.7 838.2,1439.3 838.4,1440.0 838.6,1439.4 838.7,1439.7 838.9,1438.7 839.1,1432.2 839.3,1427.4 839.5,1423.8 839.6,1423.2 839.8,1423.1 840.0,1422.7 840.2,1423.5 840.4,1423.6 840.5,1423.6 840.7,1423.5 840.9,1433.4 841.1,1439.9 841.3,1440.0 841.4,1439.6 841.6,1436.3 841.8,1436.8 842.0,1435.7 842.2,1433.0 842.3,1425.9 842.5,1425.6 842.7,1425.6 842.9,1425.4 843.1,1426.2 843.3,1425.2 843.4,1425.0 843.6,1426.4 843.8,1430.6 844.0,1435.9 844.2,1436.6 844.3,1436.6 844.5,1439.1 844.7,1438.7 844.9,1439.0 845.1,1436.0 845.2,1430.2 845.4,1427.9 845.6,1427.1 845.8,1427.9 846.0,1427.9 846.1,1427.8 846.3,1427.5 846.5,1427.0 846.7,1427.4 846.9,1430.6 847.1,1437.2 847.2,1438.7 847.4,1438.6 847.6,1435.5 847.8,1436.2 848.0,1435.1 848.1,1434.3 848.3,1431.0 848.5,1428.3 848.7,1428.1 848.9,1428.9 849.0,1427.6 849.2,1428.4 849.4,1428.5 849.6,1427.7 849.8,1431.9 849.9,1434.7 850.1,1435.5 850.3,1434.7 850.5,1437.8 850.7,1438.2 850.8,1437.7 851.0,1438.1 851.2,1434.6 851.4,1427.7 851.6,1425.8 851.8,1425.9 851.9,1425.9 852.1,1425.7 852.3,1425.9 852.5,1426.7 852.7,1433.0 852.8,1437.9 853.0,1436.7 853.2,1437.8 853.4,1438.1 853.6,1438.6 853.7,1438.0 853.9,1434.2 854.1,1430.4 854.3,1430.2 854.5,1429.7 854.6,1430.3 854.8,1429.9 855.0,1430.1 855.2,1430.3 855.4,1433.2 855.6,1438.0 855.7,1437.9 855.9,1438.1 856.1,1438.7 856.3,1438.9 856.5,1438.3 856.6,1438.7 856.8,1439.0 857.0,1429.2 857.2,1426.6 857.4,1426.3 857.5,1426.3 857.7,1426.8 857.9,1426.7 858.1,1426.7 858.3,1427.2 858.4,1431.2 858.6,1437.0 858.8,1438.8 859.0,1438.9 859.2,1439.0 859.4,1438.8 859.5,1438.4 859.7,1438.9 859.9,1438.1 860.1,1433.3 860.3,1428.8 860.4,1427.5 860.6,1427.5 860.8,1427.4 861.0,1427.5 861.2,1427.9 861.3,1427.9 861.5,1428.3 861.7,1428.1 861.9,1428.0 862.1,1428.6 862.2,1435.8 862.4,1438.2 862.6,1438.8 862.8,1438.4 863.0,1435.9 863.1,1435.9 863.3,1436.2 863.5,1435.9 863.7,1431.7 863.9,1427.9 864.1,1426.9 864.2,1427.0 864.4,1426.7 864.6,1426.9 864.8,1426.8 865.0,1426.8 865.1,1426.3 865.3,1429.0 865.5,1430.4 865.7,1435.7 865.9,1436.0 866.0,1435.3 866.2,1438.3 866.4,1439.0 866.6,1438.1 866.8,1432.2 866.9,1428.6 867.1,1427.3 867.3,1426.7 867.5,1427.0 867.7,1427.1 867.9,1427.8 868.0,1427.5 868.2,1427.5 868.4,1428.1 868.6,1435.9 868.8,1437.7 868.9,1438.2 869.1,1438.0 869.3,1438.5 869.5,1437.9 869.7,1438.7 869.8,1437.9 870.0,1433.8 870.2,1427.8 870.4,1428.0 870.6,1428.4 870.7,1428.4 870.9,1428.7 871.1,1428.7 871.3,1429.0 871.5,1434.0 871.6,1437.4 871.8,1438.3 872.0,1437.9 872.2,1438.0 872.4,1437.9 872.6,1437.8 872.7,1437.9 872.9,1437.1 873.1,1430.6 873.3,1429.2 873.5,1428.7 873.6,1428.8 873.8,1429.0 874.0,1428.9 874.2,1428.8 874.4,1428.4 874.5,1429.7 874.7,1435.7 874.9,1437.5 875.1,1437.5 875.3,1438.2 875.4,1438.0 875.6,1437.8 875.8,1438.8 876.0,1438.0 876.2,1436.4 876.4,1430.0 876.5,1428.2 876.7,1428.1 876.9,1428.4 877.1,1428.3 877.3,1428.5 877.4,1428.1 877.6,1428.1 877.8,1428.4 878.0,1430.0 878.2,1435.9 878.3,1438.5 878.5,1437.8 878.7,1437.9 878.9,1438.0 879.1,1437.9 879.2,1438.6 879.4,1435.4 879.6,1429.8 879.8,1428.7 880.0,1428.7 880.1,1429.2 880.3,1428.9 880.5,1428.9 880.7,1429.0 880.9,1434.3 881.1,1437.4 881.2,1438.4 881.4,1438.5 881.6,1437.7 881.8,1438.2 882.0,1438.2 882.1,1437.8 882.3,1436.1 882.5,1432.2 882.7,1428.3 882.9,1427.9 883.0,1428.2 883.2,1428.3 883.4,1427.8 883.6,1428.2 883.8,1430.7 883.9,1433.6 884.1,1437.4 884.3,1438.2 884.5,1438.0 884.7,1437.9 884.9,1437.6 885.0,1437.7 885.2,1438.5 885.4,1437.9 885.6,1433.5 885.8,1429.4 885.9,1428.3 886.1,1428.5 886.3,1428.1 886.5,1428.3 886.7,1428.6 886.8,1428.4 887.0,1428.2 887.2,1430.5 887.4,1435.1 887.6,1438.1 887.7,1437.4 887.9,1437.9 888.1,1437.5 888.3,1437.7 888.5,1437.0 888.6,1436.7 888.8,1433.8 889.0,1430.4 889.2,1428.5 889.4,1428.3 889.6,1428.4 889.7,1428.4 889.9,1428.1 890.1,1428.8 890.3,1429.7 890.5,1436.7 890.6,1437.4 890.8,1437.7 891.0,1437.3 891.2,1437.6 891.4,1438.1 891.5,1436.4 891.7,1434.4 891.9,1428.9 892.1,1429.0 892.3,1429.3 892.4,1429.0 892.6,1429.0 892.8,1428.8 893.0,1429.3 893.2,1428.8 893.4,1431.2 893.5,1436.1 893.7,1437.6 893.9,1437.8 894.1,1437.6 894.3,1437.4 894.4,1437.4 894.6,1436.7 894.8,1433.0 895.0,1430.7 895.2,1429.5 895.3,1429.6 895.5,1429.6 895.7,1429.8 895.9,1430.0 896.1,1429.9 896.2,1430.2 896.4,1433.1 896.6,1437.2 896.8,1437.7 897.0,1437.3 897.2,1437.4 897.3,1437.7 897.5,1437.3 897.7,1434.1 897.9,1431.5 898.1,1430.5 898.2,1430.4 898.4,1430.5 898.6,1430.3 898.8,1430.6 899.0,1430.5 899.1,1430.6 899.3,1430.6 899.5,1432.7 899.7,1437.2 899.9,1437.5 900.0,1437.6 900.2,1437.5 900.4,1437.4 900.6,1437.2 900.8,1436.1 900.9,1431.3 901.1,1430.2 901.3,1430.1 901.5,1430.4 901.7,1430.4 901.9,1430.2 902.0,1430.1 902.2,1430.4 902.4,1431.6 902.6,1437.3 902.8,1437.3 902.9,1437.3 903.1,1437.3 903.3,1437.3 903.5,1437.1 903.7,1437.1 903.8,1437.2 904.0,1437.1 904.2,1435.3 904.4,1432.2 904.6,1431.3 904.7,1431.1 904.9,1431.0 905.1,1431.0 905.3,1431.3 905.5,1431.1 905.7,1431.2 905.8,1433.2 906.0,1436.9 906.2,1437.2 906.4,1437.3 906.6,1436.9 906.7,1437.1 906.9,1436.9 907.1,1437.0 907.3,1434.4 907.5,1430.7 907.6,1430.5 907.8,1431.0 908.0,1430.7 908.2,1430.5 908.4,1430.7 908.5,1430.8 908.7,1430.8 908.9,1433.0 909.1,1435.7 909.3,1436.9 909.4,1436.9 909.6,1437.1 909.8,1437.1 910.0,1436.9 910.2,1436.3 910.4,1434.0 910.5,1431.0 910.7,1431.3 910.9,1431.0 911.1,1431.0 911.3,1431.2 911.4,1431.1 911.6,1431.0 911.8,1430.8 912.0,1433.5 912.2,1436.4 912.3,1436.8 912.5,1436.7 912.7,1436.8 912.9,1436.9 913.1,1436.5 913.2,1437.0 913.4,1435.8 913.6,1433.4 913.8,1431.4 914.0,1431.6 914.2,1431.4 914.3,1431.2 914.5,1431.4 914.7,1431.4 914.9,1431.7 915.1,1431.7 915.2,1433.3 915.4,1435.3 915.6,1436.9 915.8,1436.7 916.0,1436.6 916.1,1436.9 916.3,1436.7 916.5,1436.8 916.7,1436.7 916.9,1436.3 917.0,1435.3 917.2,1433.0 917.4,1431.9 917.6,1432.0 917.8,1432.0 917.9,1431.9 918.1,1432.2 918.3,1432.2 918.5,1432.0 918.7,1433.0 918.9,1435.8 919.0,1437.1 919.2,1436.5 919.4,1436.8 919.6,1436.9 919.8,1436.7 919.9,1436.7 920.1,1436.3 920.3,1433.7 920.5,1432.8 920.7,1432.6 920.8,1432.3 921.0,1432.3 921.2,1432.4 921.4,1432.4 921.6,1432.6 921.7,1432.8 921.9,1433.6 922.1,1435.9 922.3,1436.7 922.5,1436.5 922.7,1436.4 922.8,1436.8 923.0,1436.6 923.2,1436.3 923.4,1436.7 923.6,1436.7 923.7,1435.6 923.9,1432.4 924.1,1432.0 924.3,1432.0 924.5,1432.2 924.6,1431.9 924.8,1432.4 925.0,1432.2 925.2,1432.2 925.4,1434.9 925.5,1436.5 925.7,1436.5 925.9,1436.6 926.1,1436.5 926.3,1436.4 926.4,1436.6 926.6,1435.6 926.8,1434.2 927.0,1434.0 927.2,1433.9 927.4,1433.8" fill="none" stroke="#000" stroke-width="2.0" stroke-linejoin="round"/>
<rect x="135.3" y="898.5" width="792.5" height="611.0" fill="none" stroke="#3a3a3a" stroke-width="5.6"/>
<line x1="135.3" x2="145.3" y1="1509.8" y2="1509.8" stroke="#3a3a3a" stroke-width="4.4"/>
<text transform="translate(122.5,1523.2) scale(1,1.05)" text-anchor="end" class="tk">0</text>
<line x1="135.3" x2="145.3" y1="1435.0" y2="1435.0" stroke="#3a3a3a" stroke-width="4.4"/>
<text transform="translate(122.5,1448.5) scale(1,1.05)" text-anchor="end" class="tk">1</text>
<line x1="135.3" x2="145.3" y1="1360.3" y2="1360.3" stroke="#3a3a3a" stroke-width="4.4"/>
<text transform="translate(122.5,1373.7) scale(1,1.05)" text-anchor="end" class="tk">2</text>
<line x1="135.3" x2="145.3" y1="1285.5" y2="1285.5" stroke="#3a3a3a" stroke-width="4.4"/>
<text transform="translate(122.5,1299.0) scale(1,1.05)" text-anchor="end" class="tk">3</text>
<line x1="135.3" x2="145.3" y1="1210.8" y2="1210.8" stroke="#3a3a3a" stroke-width="4.4"/>
<text transform="translate(122.5,1224.2) scale(1,1.05)" text-anchor="end" class="tk">4</text>
<line x1="135.3" x2="145.3" y1="1136.0" y2="1136.0" stroke="#3a3a3a" stroke-width="4.4"/>
<text transform="translate(122.5,1149.5) scale(1,1.05)" text-anchor="end" class="tk">5</text>
<line x1="135.3" x2="145.3" y1="1061.3" y2="1061.3" stroke="#3a3a3a" stroke-width="4.4"/>
<text transform="translate(122.5,1074.7) scale(1,1.05)" text-anchor="end" class="tk">6</text>
<line x1="135.3" x2="145.3" y1="986.5" y2="986.5" stroke="#3a3a3a" stroke-width="4.4"/>
<text transform="translate(122.5,999.9) scale(1,1.05)" text-anchor="end" class="tk">7</text>
<line x1="135.3" x2="145.3" y1="911.8" y2="911.8" stroke="#3a3a3a" stroke-width="4.4"/>
<text transform="translate(122.5,925.2) scale(1,1.05)" text-anchor="end" class="tk">8</text>
<line x1="206.3" x2="206.3" y1="1509.5" y2="1499.5" stroke="#3a3a3a" stroke-width="4.4"/>
<text transform="translate(204.3,1553.2) scale(1,1.05)" text-anchor="middle" class="tk">-0.3</text>
<line x1="314.6" x2="314.6" y1="1509.5" y2="1499.5" stroke="#3a3a3a" stroke-width="4.4"/>
<text transform="translate(312.6,1553.2) scale(1,1.05)" text-anchor="middle" class="tk">-0.2</text>
<line x1="422.9" x2="422.9" y1="1509.5" y2="1499.5" stroke="#3a3a3a" stroke-width="4.4"/>
<text transform="translate(420.9,1553.2) scale(1,1.05)" text-anchor="middle" class="tk">-0.1</text>
<line x1="531.2" x2="531.2" y1="1509.5" y2="1499.5" stroke="#3a3a3a" stroke-width="4.4"/>
<text transform="translate(531.2,1553.2) scale(1,1.05)" text-anchor="middle" class="tk">0</text>
<line x1="639.5" x2="639.5" y1="1509.5" y2="1499.5" stroke="#3a3a3a" stroke-width="4.4"/>
<text transform="translate(639.5,1553.2) scale(1,1.05)" text-anchor="middle" class="tk">0.1</text>
<line x1="747.8" x2="747.8" y1="1509.5" y2="1499.5" stroke="#3a3a3a" stroke-width="4.4"/>
<text transform="translate(747.8,1553.2) scale(1,1.05)" text-anchor="middle" class="tk">0.2</text>
<line x1="856.1" x2="856.1" y1="1509.5" y2="1499.5" stroke="#3a3a3a" stroke-width="4.4"/>
<text transform="translate(856.1,1553.2) scale(1,1.05)" text-anchor="middle" class="tk">0.3</text>
<text transform="translate(88.5,1209.0) rotate(-90)" text-anchor="middle" class="lb">Norm. amplitude</text>
<text y="1598.7" class="lb" xml:space="preserve"><tspan x="362.3" textLength="142" lengthAdjust="spacingAndGlyphs">Temporal</tspan> <tspan x="517.5" textLength="86" lengthAdjust="spacingAndGlyphs">delay,</tspan> <tspan x="643.3" textLength="54.4" lengthAdjust="spacingAndGlyphs">(ps)</tspan></text>
<text transform="translate(613,1598.7) scale(1.5,1)" class="lb" font-style="italic" font-size="38" style="fill:#606060">τ</text>
<text y="878.3" class="tt"><tspan x="64.1" textLength="103" lengthAdjust="spacingAndGlyphs">In-line</tspan> <tspan x="182.1">LC</tspan> <tspan x="243.0" textLength="240.3" lengthAdjust="spacingAndGlyphs">interferometric</tspan> <tspan x="498.3" textLength="245" lengthAdjust="spacingAndGlyphs">autocorrelation</tspan> <tspan x="753.8">(</tspan><tspan x="766.9" font-style="italic">F</tspan><tspan class="sub" x="793.4" dy="17">0</tspan><tspan x="818.8" dy="-17">=</tspan> <tspan x="849.3">349</tspan> <tspan x="913.8">THz)</tspan></text>
<text x="524" y="1664.3999999999999" class="pl" text-anchor="middle">(b)</text>
<path d="M659.7 904.5 V1097.3 H919.7" fill="none" stroke="#262626" stroke-width="2.4"/>
<line x1="659.7" x2="663.7" y1="1097.3" y2="1097.3" stroke="#262626" stroke-width="2"/>
<text x="651.7" y="1106.3" text-anchor="end" class="it" font-size="27.5">0</text>
<line x1="659.7" x2="663.7" y1="1042.1" y2="1042.1" stroke="#262626" stroke-width="2"/>
<text x="651.7" y="1051.1" text-anchor="end" class="it" font-size="27.5">2</text>
<line x1="659.7" x2="663.7" y1="986.9" y2="986.9" stroke="#262626" stroke-width="2"/>
<text x="651.7" y="995.9" text-anchor="end" class="it" font-size="27.5">4</text>
<line x1="659.7" x2="663.7" y1="931.7" y2="931.7" stroke="#262626" stroke-width="2"/>
<text x="651.7" y="940.7" text-anchor="end" class="it" font-size="27.5">6</text>
<line x1="708.4" x2="708.4" y1="1097.3" y2="1093.3" stroke="#262626" stroke-width="2"/>
<line x1="766.1" x2="766.1" y1="1097.3" y2="1093.3" stroke="#262626" stroke-width="2"/>
<line x1="823.8" x2="823.8" y1="1097.3" y2="1093.3" stroke="#262626" stroke-width="2"/>
<line x1="881.5" x2="881.5" y1="1097.3" y2="1093.3" stroke="#262626" stroke-width="2"/>
<text x="672.8" y="1131.8" textLength="71.5" lengthAdjust="spacingAndGlyphs" class="it">-0.036</text>
<text x="788.3" y="1131.8" textLength="71.5" lengthAdjust="spacingAndGlyphs" class="it">-0.034</text>
<path d="M656.1 1087.5l7.2 7.2M656.1 1094.7l7.2 -7.2M665.7 1024.4l7.2 7.2M665.7 1031.6l7.2 -7.2M675.4 932.6l7.2 7.2M675.4 939.8l7.2 -7.2M685.1 923.9l7.2 7.2M685.1 931.1l7.2 -7.2M694.8 942.3l7.2 7.2M694.8 949.5l7.2 -7.2M704.4 925.4l7.2 7.2M704.4 932.6l7.2 -7.2M714.1 976.9l7.2 7.2M714.1 984.1l7.2 -7.2M723.5 982.9l7.2 7.2M723.5 990.1l7.2 -7.2M732.9 978.5l7.2 7.2M732.9 985.7l7.2 -7.2M742.5 986.9l7.2 7.2M742.5 994.1l7.2 -7.2M751.9 1085.0l7.2 7.2M751.9 1092.2l7.2 -7.2M761.6 1087.5l7.2 7.2M761.6 1094.7l7.2 -7.2M771.3 1050.9l7.2 7.2M771.3 1058.1l7.2 -7.2M780.9 1083.7l7.2 7.2M780.9 1090.9l7.2 -7.2M790.9 973.8l7.2 7.2M790.9 981.0l7.2 -7.2M800.6 954.8l7.2 7.2M800.6 962.0l7.2 -7.2M810.0 944.2l7.2 7.2M810.0 951.4l7.2 -7.2M819.6 944.2l7.2 7.2M819.6 951.4l7.2 -7.2M829.3 937.0l7.2 7.2M829.3 944.2l7.2 -7.2M839.0 930.1l7.2 7.2M839.0 937.3l7.2 -7.2M848.4 916.1l7.2 7.2M848.4 923.3l7.2 -7.2M858.0 920.1l7.2 7.2M858.0 927.3l7.2 -7.2M867.7 926.1l7.2 7.2M867.7 933.3l7.2 -7.2M877.1 931.4l7.2 7.2M877.1 938.6l7.2 -7.2M886.8 931.4l7.2 7.2M886.8 938.6l7.2 -7.2M896.4 957.3l7.2 7.2M896.4 964.5l7.2 -7.2M905.8 1065.0l7.2 7.2M905.8 1072.2l7.2 -7.2M915.5 1088.1l7.2 7.2M915.5 1095.3l7.2 -7.2" stroke="#111" stroke-width="1.5" fill="none"/>
</svg>
</body></html>
